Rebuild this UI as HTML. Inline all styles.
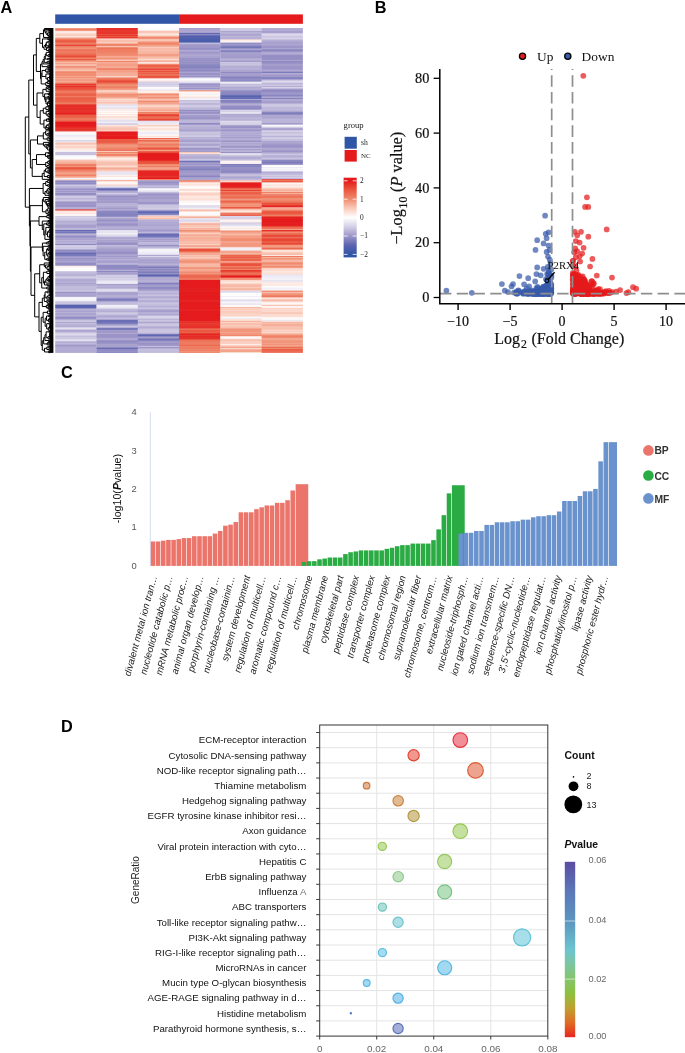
<!DOCTYPE html><html><head><meta charset="utf-8"><title>Figure</title><style>html,body{margin:0;padding:0;background:#fff}svg{display:block}</style></head><body><svg width="685" height="1053" viewBox="0 0 685 1053"><defs><linearGradient id="hc0" x1="0" y1="0" x2="0" y2="1"><stop offset="0" stop-color="#f5ab95"/><stop offset="0.0033" stop-color="#ef8469"/><stop offset="0.0067" stop-color="#ee775d"/><stop offset="0.01" stop-color="#fce2da"/><stop offset="0.0133" stop-color="#fdefea"/><stop offset="0.0167" stop-color="#fcdcd1"/><stop offset="0.02" stop-color="#fbd3c6"/><stop offset="0.0233" stop-color="#fac9b9"/><stop offset="0.0267" stop-color="#fdede8"/><stop offset="0.03" stop-color="#f7b8a4"/><stop offset="0.0333" stop-color="#f0886d"/><stop offset="0.0367" stop-color="#ec6d53"/><stop offset="0.04" stop-color="#ea543e"/><stop offset="0.0433" stop-color="#eb6148"/><stop offset="0.0467" stop-color="#ee795f"/><stop offset="0.05" stop-color="#ee7d62"/><stop offset="0.0533" stop-color="#e7382e"/><stop offset="0.0567" stop-color="#ee7e63"/><stop offset="0.06" stop-color="#f0896d"/><stop offset="0.0633" stop-color="#f19277"/><stop offset="0.0667" stop-color="#ed755b"/><stop offset="0.07" stop-color="#ed745a"/><stop offset="0.0733" stop-color="#ee7f64"/><stop offset="0.0767" stop-color="#ee795e"/><stop offset="0.08" stop-color="#ed7157"/><stop offset="0.0833" stop-color="#ec684e"/><stop offset="0.0867" stop-color="#e84535"/><stop offset="0.09" stop-color="#eb5d45"/><stop offset="0.0933" stop-color="#f08e72"/><stop offset="0.0967" stop-color="#e9503b"/><stop offset="0.1" stop-color="#ef8569"/><stop offset="0.1033" stop-color="#f39d84"/><stop offset="0.1067" stop-color="#f8bca9"/><stop offset="0.11" stop-color="#f2997f"/><stop offset="0.1133" stop-color="#fac9b9"/><stop offset="0.1167" stop-color="#f6b39f"/><stop offset="0.12" stop-color="#ed755b"/><stop offset="0.1233" stop-color="#f7b9a6"/><stop offset="0.1267" stop-color="#f4a68f"/><stop offset="0.13" stop-color="#fbd3c6"/><stop offset="0.1333" stop-color="#f29980"/><stop offset="0.1367" stop-color="#ef8468"/><stop offset="0.14" stop-color="#f1957a"/><stop offset="0.1433" stop-color="#f08a6e"/><stop offset="0.1467" stop-color="#f19074"/><stop offset="0.15" stop-color="#f5ab95"/><stop offset="0.1533" stop-color="#ef866a"/><stop offset="0.1567" stop-color="#f8beab"/><stop offset="0.16" stop-color="#ef8368"/><stop offset="0.1633" stop-color="#f7b7a3"/><stop offset="0.1667" stop-color="#f39c83"/><stop offset="0.17" stop-color="#f08c70"/><stop offset="0.1733" stop-color="#e62e28"/><stop offset="0.1767" stop-color="#eb5d45"/><stop offset="0.18" stop-color="#e62d27"/><stop offset="0.1833" stop-color="#e94f3b"/><stop offset="0.1867" stop-color="#e94e3a"/><stop offset="0.19" stop-color="#eb5e46"/><stop offset="0.1933" stop-color="#ec6a50"/><stop offset="0.1967" stop-color="#f0896d"/><stop offset="0.2" stop-color="#ec664d"/><stop offset="0.2033" stop-color="#ec6d53"/><stop offset="0.2067" stop-color="#e9513c"/><stop offset="0.21" stop-color="#ef8065"/><stop offset="0.2133" stop-color="#ec6b51"/><stop offset="0.2167" stop-color="#ea5c43"/><stop offset="0.22" stop-color="#eb6148"/><stop offset="0.2233" stop-color="#eb634a"/><stop offset="0.2267" stop-color="#eb634a"/><stop offset="0.23" stop-color="#ed765b"/><stop offset="0.2333" stop-color="#ef8065"/><stop offset="0.2367" stop-color="#e62f28"/><stop offset="0.24" stop-color="#e62d27"/><stop offset="0.2433" stop-color="#e62e28"/><stop offset="0.2467" stop-color="#e6322a"/><stop offset="0.25" stop-color="#e52824"/><stop offset="0.2533" stop-color="#e7372d"/><stop offset="0.2567" stop-color="#e6312a"/><stop offset="0.26" stop-color="#e62d27"/><stop offset="0.2633" stop-color="#e52422"/><stop offset="0.2667" stop-color="#e83f32"/><stop offset="0.27" stop-color="#ec694f"/><stop offset="0.2733" stop-color="#ea5b43"/><stop offset="0.2767" stop-color="#ec6a50"/><stop offset="0.28" stop-color="#ef8166"/><stop offset="0.2833" stop-color="#ed6f56"/><stop offset="0.2867" stop-color="#eb644b"/><stop offset="0.29" stop-color="#e41a1c"/><stop offset="0.2933" stop-color="#e41a1c"/><stop offset="0.2967" stop-color="#e41a1c"/><stop offset="0.3" stop-color="#e41c1d"/><stop offset="0.3033" stop-color="#e5201f"/><stop offset="0.3067" stop-color="#e63028"/><stop offset="0.31" stop-color="#e7392e"/><stop offset="0.3133" stop-color="#e62f28"/><stop offset="0.3167" stop-color="#e84133"/><stop offset="0.32" stop-color="#f9f8fb"/><stop offset="0.3233" stop-color="#fef7f5"/><stop offset="0.3267" stop-color="#fbfafc"/><stop offset="0.33" stop-color="#eae8f3"/><stop offset="0.3333" stop-color="#efedf5"/><stop offset="0.3367" stop-color="#f4f3f9"/><stop offset="0.34" stop-color="#fef5f2"/><stop offset="0.3433" stop-color="#f7f6fb"/><stop offset="0.3467" stop-color="#d7d2e8"/><stop offset="0.35" stop-color="#e5e2f0"/><stop offset="0.3533" stop-color="#fbd7ca"/><stop offset="0.3567" stop-color="#f6b4a0"/><stop offset="0.36" stop-color="#fce0d7"/><stop offset="0.3633" stop-color="#fcddd2"/><stop offset="0.3667" stop-color="#facaba"/><stop offset="0.37" stop-color="#fce2d9"/><stop offset="0.3733" stop-color="#fdece6"/><stop offset="0.3767" stop-color="#fef1ec"/><stop offset="0.38" stop-color="#f4f2f8"/><stop offset="0.3833" stop-color="#c4bedd"/><stop offset="0.3867" stop-color="#c5c0de"/><stop offset="0.39" stop-color="#c6c1de"/><stop offset="0.3933" stop-color="#fffffe"/><stop offset="0.3967" stop-color="#f8f7fb"/><stop offset="0.4" stop-color="#fffdfc"/><stop offset="0.4033" stop-color="#fbfbfd"/><stop offset="0.4067" stop-color="#f9c5b4"/><stop offset="0.41" stop-color="#f8bca9"/><stop offset="0.4133" stop-color="#f7b5a1"/><stop offset="0.4167" stop-color="#f5ac96"/><stop offset="0.42" stop-color="#ef8267"/><stop offset="0.4233" stop-color="#ee7c62"/><stop offset="0.4267" stop-color="#f2987e"/><stop offset="0.43" stop-color="#e9523d"/><stop offset="0.4333" stop-color="#ea563f"/><stop offset="0.4367" stop-color="#ee7b61"/><stop offset="0.44" stop-color="#ef8267"/><stop offset="0.4433" stop-color="#f1947a"/><stop offset="0.4467" stop-color="#f3a189"/><stop offset="0.45" stop-color="#f3a088"/><stop offset="0.4533" stop-color="#ee775d"/><stop offset="0.4567" stop-color="#f39f87"/><stop offset="0.46" stop-color="#f7b7a3"/><stop offset="0.4633" stop-color="#f4f2f8"/><stop offset="0.4667" stop-color="#fbd6ca"/><stop offset="0.47" stop-color="#a49ccb"/><stop offset="0.4733" stop-color="#8482bf"/><stop offset="0.4767" stop-color="#a49ccb"/><stop offset="0.48" stop-color="#8482bf"/><stop offset="0.4833" stop-color="#d5d0e6"/><stop offset="0.4867" stop-color="#c2bcdc"/><stop offset="0.49" stop-color="#bbb4d8"/><stop offset="0.4933" stop-color="#b0a9d2"/><stop offset="0.4967" stop-color="#928dc4"/><stop offset="0.5" stop-color="#b1aad2"/><stop offset="0.5033" stop-color="#9c95c7"/><stop offset="0.5067" stop-color="#b2acd3"/><stop offset="0.51" stop-color="#8684bf"/><stop offset="0.5133" stop-color="#9c95c7"/><stop offset="0.5167" stop-color="#bbb5d8"/><stop offset="0.52" stop-color="#dfdced"/><stop offset="0.5233" stop-color="#beb8da"/><stop offset="0.5267" stop-color="#bab3d7"/><stop offset="0.53" stop-color="#d8d3e8"/><stop offset="0.5333" stop-color="#b6b0d5"/><stop offset="0.5367" stop-color="#9b94c7"/><stop offset="0.54" stop-color="#a098c9"/><stop offset="0.5433" stop-color="#a098c9"/><stop offset="0.5467" stop-color="#9791c6"/><stop offset="0.55" stop-color="#a098c9"/><stop offset="0.5533" stop-color="#bcb6d9"/><stop offset="0.5567" stop-color="#b4add4"/><stop offset="0.56" stop-color="#e6332b"/><stop offset="0.5633" stop-color="#fce2d9"/><stop offset="0.5667" stop-color="#fdefe9"/><stop offset="0.57" stop-color="#fce2d9"/><stop offset="0.5733" stop-color="#fef3f0"/><stop offset="0.5767" stop-color="#fffaf9"/><stop offset="0.58" stop-color="#cec8e2"/><stop offset="0.5833" stop-color="#d7d2e8"/><stop offset="0.5867" stop-color="#cfcae3"/><stop offset="0.59" stop-color="#cec8e2"/><stop offset="0.5933" stop-color="#bfb9da"/><stop offset="0.5967" stop-color="#b2abd3"/><stop offset="0.6" stop-color="#bdb6d9"/><stop offset="0.6033" stop-color="#b6b0d6"/><stop offset="0.6067" stop-color="#aca5d0"/><stop offset="0.61" stop-color="#a49dcc"/><stop offset="0.6133" stop-color="#a7a0cd"/><stop offset="0.6167" stop-color="#bbb5d8"/><stop offset="0.62" stop-color="#beb7da"/><stop offset="0.6233" stop-color="#6168b2"/><stop offset="0.6267" stop-color="#8986c1"/><stop offset="0.63" stop-color="#6f73b7"/><stop offset="0.6333" stop-color="#b2abd3"/><stop offset="0.6367" stop-color="#bbb5d8"/><stop offset="0.64" stop-color="#9e96c8"/><stop offset="0.6433" stop-color="#8986c1"/><stop offset="0.6467" stop-color="#b5aed5"/><stop offset="0.65" stop-color="#a098c9"/><stop offset="0.6533" stop-color="#bdb7d9"/><stop offset="0.6567" stop-color="#afa8d1"/><stop offset="0.66" stop-color="#b8b2d7"/><stop offset="0.6633" stop-color="#b5aed5"/><stop offset="0.6667" stop-color="#8785c0"/><stop offset="0.67" stop-color="#ddd9eb"/><stop offset="0.6733" stop-color="#cec8e3"/><stop offset="0.6767" stop-color="#cdc7e2"/><stop offset="0.68" stop-color="#d1cce4"/><stop offset="0.6833" stop-color="#908cc3"/><stop offset="0.6867" stop-color="#938dc4"/><stop offset="0.69" stop-color="#958fc5"/><stop offset="0.6933" stop-color="#6067b1"/><stop offset="0.6967" stop-color="#7577b9"/><stop offset="0.7" stop-color="#7678b9"/><stop offset="0.7033" stop-color="#9f97c9"/><stop offset="0.7067" stop-color="#aaa3cf"/><stop offset="0.71" stop-color="#948ec4"/><stop offset="0.7133" stop-color="#a59dcc"/><stop offset="0.7167" stop-color="#a49dcc"/><stop offset="0.72" stop-color="#b0a9d2"/><stop offset="0.7233" stop-color="#938dc4"/><stop offset="0.7267" stop-color="#928dc4"/><stop offset="0.73" stop-color="#948ec4"/><stop offset="0.7333" stop-color="#fdefea"/><stop offset="0.7367" stop-color="#fef5f2"/><stop offset="0.74" stop-color="#fefefe"/><stop offset="0.7433" stop-color="#fffdfc"/><stop offset="0.7467" stop-color="#fffefe"/><stop offset="0.75" stop-color="#c7c1df"/><stop offset="0.7533" stop-color="#c2bcdc"/><stop offset="0.7567" stop-color="#c0badb"/><stop offset="0.76" stop-color="#b4add4"/><stop offset="0.7633" stop-color="#bcb6d9"/><stop offset="0.7667" stop-color="#d9d4e9"/><stop offset="0.77" stop-color="#cbc6e1"/><stop offset="0.7733" stop-color="#b4add4"/><stop offset="0.7767" stop-color="#b0a9d2"/><stop offset="0.78" stop-color="#b4add4"/><stop offset="0.7833" stop-color="#b8b1d6"/><stop offset="0.7867" stop-color="#aaa2ce"/><stop offset="0.79" stop-color="#b5afd5"/><stop offset="0.7933" stop-color="#b6afd5"/><stop offset="0.7967" stop-color="#c4bedd"/><stop offset="0.8" stop-color="#c3bddd"/><stop offset="0.8033" stop-color="#c0badb"/><stop offset="0.8067" stop-color="#c0b9db"/><stop offset="0.81" stop-color="#d8d3e8"/><stop offset="0.8133" stop-color="#8f8ac2"/><stop offset="0.8167" stop-color="#afa8d1"/><stop offset="0.82" stop-color="#aaa3cf"/><stop offset="0.8233" stop-color="#aaa3cf"/><stop offset="0.8267" stop-color="#b4add4"/><stop offset="0.83" stop-color="#fffefe"/><stop offset="0.8333" stop-color="#f7f6fa"/><stop offset="0.8367" stop-color="#f5f4f9"/><stop offset="0.84" stop-color="#f1f0f7"/><stop offset="0.8433" stop-color="#c3bddc"/><stop offset="0.8467" stop-color="#d0cbe4"/><stop offset="0.85" stop-color="#bfb9da"/><stop offset="0.8533" stop-color="#5662af"/><stop offset="0.8567" stop-color="#5561ae"/><stop offset="0.86" stop-color="#5762af"/><stop offset="0.8633" stop-color="#948ec4"/><stop offset="0.8667" stop-color="#bab3d7"/><stop offset="0.87" stop-color="#afa8d1"/><stop offset="0.8733" stop-color="#a69fcd"/><stop offset="0.8767" stop-color="#bfb9da"/><stop offset="0.88" stop-color="#a098c9"/><stop offset="0.8833" stop-color="#b5aed5"/><stop offset="0.8867" stop-color="#b5afd5"/><stop offset="0.89" stop-color="#918cc3"/><stop offset="0.8933" stop-color="#918cc3"/><stop offset="0.8967" stop-color="#afa8d1"/><stop offset="0.9" stop-color="#c8c2df"/><stop offset="0.9033" stop-color="#cdc8e2"/><stop offset="0.9067" stop-color="#aba3cf"/><stop offset="0.91" stop-color="#cac4e0"/><stop offset="0.9133" stop-color="#b6b0d5"/><stop offset="0.9167" stop-color="#b6afd5"/><stop offset="0.92" stop-color="#b4add4"/><stop offset="0.9233" stop-color="#ebe9f3"/><stop offset="0.9267" stop-color="#dedaec"/><stop offset="0.93" stop-color="#aea7d1"/><stop offset="0.9333" stop-color="#aba3cf"/><stop offset="0.9367" stop-color="#c2bcdc"/><stop offset="0.94" stop-color="#d7d3e8"/><stop offset="0.9433" stop-color="#dedaec"/><stop offset="0.9467" stop-color="#d2cde5"/><stop offset="0.95" stop-color="#c1bbdb"/><stop offset="0.9533" stop-color="#d1cce4"/><stop offset="0.9567" stop-color="#cac5e1"/><stop offset="0.96" stop-color="#e9e7f2"/><stop offset="0.9633" stop-color="#dbd7ea"/><stop offset="0.9667" stop-color="#a8a1ce"/><stop offset="0.97" stop-color="#c0badb"/><stop offset="0.9733" stop-color="#bab4d8"/><stop offset="0.9767" stop-color="#9b94c7"/><stop offset="0.98" stop-color="#aba4cf"/><stop offset="0.9833" stop-color="#afa8d2"/><stop offset="0.9867" stop-color="#b3acd4"/><stop offset="0.99" stop-color="#b4aed4"/><stop offset="0.9933" stop-color="#aea7d1"/><stop offset="0.9967" stop-color="#b5afd5"/><stop offset="1" stop-color="#aaa3cf"/></linearGradient><linearGradient id="hc1" x1="0" y1="0" x2="0" y2="1"><stop offset="0" stop-color="#e52925"/><stop offset="0.0033" stop-color="#e63029"/><stop offset="0.0067" stop-color="#e6342b"/><stop offset="0.01" stop-color="#e73b2f"/><stop offset="0.0133" stop-color="#e7352c"/><stop offset="0.0167" stop-color="#e6342b"/><stop offset="0.02" stop-color="#e9513c"/><stop offset="0.0233" stop-color="#e7342b"/><stop offset="0.0267" stop-color="#eb6249"/><stop offset="0.03" stop-color="#e52925"/><stop offset="0.0333" stop-color="#facebf"/><stop offset="0.0367" stop-color="#fbd1c3"/><stop offset="0.04" stop-color="#f6af9a"/><stop offset="0.0433" stop-color="#fbd3c6"/><stop offset="0.0467" stop-color="#f9c6b5"/><stop offset="0.05" stop-color="#ef8469"/><stop offset="0.0533" stop-color="#ee7e63"/><stop offset="0.0567" stop-color="#f9c4b2"/><stop offset="0.06" stop-color="#f08c70"/><stop offset="0.0633" stop-color="#ed7157"/><stop offset="0.0667" stop-color="#ee7f64"/><stop offset="0.07" stop-color="#ee7d62"/><stop offset="0.0733" stop-color="#ef8569"/><stop offset="0.0767" stop-color="#ee7e63"/><stop offset="0.08" stop-color="#f19277"/><stop offset="0.0833" stop-color="#ee7d62"/><stop offset="0.0867" stop-color="#f5aa93"/><stop offset="0.09" stop-color="#f5a992"/><stop offset="0.0933" stop-color="#f08a6e"/><stop offset="0.0967" stop-color="#f5ab94"/><stop offset="0.1" stop-color="#f9c7b6"/><stop offset="0.1033" stop-color="#ef8166"/><stop offset="0.1067" stop-color="#f6b39e"/><stop offset="0.11" stop-color="#f4a38c"/><stop offset="0.1133" stop-color="#f39c83"/><stop offset="0.1167" stop-color="#f3a189"/><stop offset="0.12" stop-color="#f6b19c"/><stop offset="0.1233" stop-color="#f39f86"/><stop offset="0.1267" stop-color="#ec6b51"/><stop offset="0.13" stop-color="#f4a790"/><stop offset="0.1333" stop-color="#f39c83"/><stop offset="0.1367" stop-color="#f4a790"/><stop offset="0.14" stop-color="#f5af99"/><stop offset="0.1433" stop-color="#f5ae99"/><stop offset="0.1467" stop-color="#f5ac96"/><stop offset="0.15" stop-color="#fce3da"/><stop offset="0.1533" stop-color="#f08b6f"/><stop offset="0.1567" stop-color="#ed745a"/><stop offset="0.16" stop-color="#ec6c52"/><stop offset="0.1633" stop-color="#e83f32"/><stop offset="0.1667" stop-color="#ea573f"/><stop offset="0.17" stop-color="#ec684f"/><stop offset="0.1733" stop-color="#f08b6f"/><stop offset="0.1767" stop-color="#f19176"/><stop offset="0.18" stop-color="#ef876b"/><stop offset="0.1833" stop-color="#ee7e63"/><stop offset="0.1867" stop-color="#f1957a"/><stop offset="0.19" stop-color="#f3a188"/><stop offset="0.1933" stop-color="#fce3da"/><stop offset="0.1967" stop-color="#f9c3b1"/><stop offset="0.2" stop-color="#f8bfad"/><stop offset="0.2033" stop-color="#f08e73"/><stop offset="0.2067" stop-color="#f19176"/><stop offset="0.21" stop-color="#f19277"/><stop offset="0.2133" stop-color="#f4a58e"/><stop offset="0.2167" stop-color="#f8beab"/><stop offset="0.22" stop-color="#fcddd2"/><stop offset="0.2233" stop-color="#facebf"/><stop offset="0.2267" stop-color="#fbd7cb"/><stop offset="0.23" stop-color="#f8bcaa"/><stop offset="0.2333" stop-color="#fbd5c8"/><stop offset="0.2367" stop-color="#e4e1ef"/><stop offset="0.24" stop-color="#e9e6f2"/><stop offset="0.2433" stop-color="#f1f0f7"/><stop offset="0.2467" stop-color="#dedaec"/><stop offset="0.25" stop-color="#fdeee9"/><stop offset="0.2533" stop-color="#fdeae3"/><stop offset="0.2567" stop-color="#fbfbfd"/><stop offset="0.26" stop-color="#fdefea"/><stop offset="0.2633" stop-color="#fffcfb"/><stop offset="0.2667" stop-color="#fce1d8"/><stop offset="0.27" stop-color="#fffbfa"/><stop offset="0.2733" stop-color="#fbd5c8"/><stop offset="0.2767" stop-color="#fde7e0"/><stop offset="0.28" stop-color="#fdede8"/><stop offset="0.2833" stop-color="#eae8f3"/><stop offset="0.2867" stop-color="#ddd9eb"/><stop offset="0.29" stop-color="#f8f7fb"/><stop offset="0.2933" stop-color="#dad5e9"/><stop offset="0.2967" stop-color="#d2cde5"/><stop offset="0.3" stop-color="#fde9e2"/><stop offset="0.3033" stop-color="#fbd3c6"/><stop offset="0.3067" stop-color="#facbbc"/><stop offset="0.31" stop-color="#f9c2b0"/><stop offset="0.3133" stop-color="#f8c1af"/><stop offset="0.3167" stop-color="#fbdacf"/><stop offset="0.32" stop-color="#e41d1e"/><stop offset="0.3233" stop-color="#e41a1c"/><stop offset="0.3267" stop-color="#e41a1c"/><stop offset="0.33" stop-color="#e52623"/><stop offset="0.3333" stop-color="#e41b1c"/><stop offset="0.3367" stop-color="#e41a1c"/><stop offset="0.34" stop-color="#e41a1c"/><stop offset="0.3433" stop-color="#eb5f46"/><stop offset="0.3467" stop-color="#ea5a42"/><stop offset="0.35" stop-color="#eb5d45"/><stop offset="0.3533" stop-color="#eb5e46"/><stop offset="0.3567" stop-color="#ee7e63"/><stop offset="0.36" stop-color="#f2967c"/><stop offset="0.3633" stop-color="#f2997f"/><stop offset="0.3667" stop-color="#f19277"/><stop offset="0.37" stop-color="#ef866b"/><stop offset="0.3733" stop-color="#ef7f64"/><stop offset="0.3767" stop-color="#ec6a51"/><stop offset="0.38" stop-color="#faccbd"/><stop offset="0.3833" stop-color="#ef8468"/><stop offset="0.3867" stop-color="#f5aa93"/><stop offset="0.39" stop-color="#ed755b"/><stop offset="0.3933" stop-color="#f19074"/><stop offset="0.3967" stop-color="#facbbc"/><stop offset="0.4" stop-color="#fce5dc"/><stop offset="0.4033" stop-color="#fef2ed"/><stop offset="0.4067" stop-color="#fcdcd1"/><stop offset="0.41" stop-color="#fbd3c6"/><stop offset="0.4133" stop-color="#f8c1af"/><stop offset="0.4167" stop-color="#f8c1af"/><stop offset="0.42" stop-color="#f8c0ae"/><stop offset="0.4233" stop-color="#facbbb"/><stop offset="0.4267" stop-color="#fce1d7"/><stop offset="0.43" stop-color="#f6b5a0"/><stop offset="0.4333" stop-color="#f5a993"/><stop offset="0.4367" stop-color="#f8c0ae"/><stop offset="0.44" stop-color="#fbd2c5"/><stop offset="0.4433" stop-color="#e7e4f1"/><stop offset="0.4467" stop-color="#eae8f3"/><stop offset="0.45" stop-color="#e4e0ef"/><stop offset="0.4533" stop-color="#fef5f2"/><stop offset="0.4567" stop-color="#fce2d9"/><stop offset="0.46" stop-color="#fbfbfd"/><stop offset="0.4633" stop-color="#fffcfb"/><stop offset="0.4667" stop-color="#f3f1f8"/><stop offset="0.47" stop-color="#f5aa93"/><stop offset="0.4733" stop-color="#fef5f1"/><stop offset="0.4767" stop-color="#fef8f6"/><stop offset="0.48" stop-color="#fef4f1"/><stop offset="0.4833" stop-color="#fbd1c3"/><stop offset="0.4867" stop-color="#e3e0ef"/><stop offset="0.49" stop-color="#e4e1ef"/><stop offset="0.4933" stop-color="#8684bf"/><stop offset="0.4967" stop-color="#5762af"/><stop offset="0.5" stop-color="#8e8ac2"/><stop offset="0.5033" stop-color="#b0a9d2"/><stop offset="0.5067" stop-color="#b8b1d6"/><stop offset="0.51" stop-color="#d9d4e9"/><stop offset="0.5133" stop-color="#b4add4"/><stop offset="0.5167" stop-color="#a19aca"/><stop offset="0.52" stop-color="#908bc3"/><stop offset="0.5233" stop-color="#aba4cf"/><stop offset="0.5267" stop-color="#9a93c7"/><stop offset="0.53" stop-color="#a9a1ce"/><stop offset="0.5333" stop-color="#a49dcb"/><stop offset="0.5367" stop-color="#a199ca"/><stop offset="0.54" stop-color="#b7b1d6"/><stop offset="0.5433" stop-color="#b7b1d6"/><stop offset="0.5467" stop-color="#bcb6d9"/><stop offset="0.55" stop-color="#afa8d2"/><stop offset="0.5533" stop-color="#ada6d0"/><stop offset="0.5567" stop-color="#9c94c7"/><stop offset="0.56" stop-color="#bdb7d9"/><stop offset="0.5633" stop-color="#8e8ac2"/><stop offset="0.5667" stop-color="#8885c0"/><stop offset="0.57" stop-color="#8a87c1"/><stop offset="0.5733" stop-color="#8281be"/><stop offset="0.5767" stop-color="#8483bf"/><stop offset="0.58" stop-color="#938ec4"/><stop offset="0.5833" stop-color="#bfb8da"/><stop offset="0.5867" stop-color="#aaa2cf"/><stop offset="0.59" stop-color="#a29bca"/><stop offset="0.5933" stop-color="#908bc3"/><stop offset="0.5967" stop-color="#ada6d0"/><stop offset="0.6" stop-color="#a9a2ce"/><stop offset="0.6033" stop-color="#9790c5"/><stop offset="0.6067" stop-color="#9992c6"/><stop offset="0.61" stop-color="#a9a2ce"/><stop offset="0.6133" stop-color="#b8b2d7"/><stop offset="0.6167" stop-color="#b3acd4"/><stop offset="0.62" stop-color="#ada6d0"/><stop offset="0.6233" stop-color="#e2dfee"/><stop offset="0.6267" stop-color="#e8e5f2"/><stop offset="0.63" stop-color="#e5e2f0"/><stop offset="0.6333" stop-color="#f9f8fb"/><stop offset="0.6367" stop-color="#dbd7ea"/><stop offset="0.64" stop-color="#e2deee"/><stop offset="0.6433" stop-color="#bcb6d9"/><stop offset="0.6467" stop-color="#a69ecc"/><stop offset="0.65" stop-color="#beb8da"/><stop offset="0.6533" stop-color="#a9a2ce"/><stop offset="0.6567" stop-color="#aca5d0"/><stop offset="0.66" stop-color="#a49dcc"/><stop offset="0.6633" stop-color="#948ec4"/><stop offset="0.6667" stop-color="#9b94c7"/><stop offset="0.67" stop-color="#cac4e0"/><stop offset="0.6733" stop-color="#b3acd4"/><stop offset="0.6767" stop-color="#b3acd3"/><stop offset="0.68" stop-color="#a79fcd"/><stop offset="0.6833" stop-color="#a199ca"/><stop offset="0.6867" stop-color="#a8a0cd"/><stop offset="0.69" stop-color="#928dc4"/><stop offset="0.6933" stop-color="#938dc4"/><stop offset="0.6967" stop-color="#a7a0cd"/><stop offset="0.7" stop-color="#aea7d1"/><stop offset="0.7033" stop-color="#a098c9"/><stop offset="0.7067" stop-color="#afa8d2"/><stop offset="0.71" stop-color="#aba4cf"/><stop offset="0.7133" stop-color="#bbb5d8"/><stop offset="0.7167" stop-color="#a8a1ce"/><stop offset="0.72" stop-color="#a49ccb"/><stop offset="0.7233" stop-color="#aea7d1"/><stop offset="0.7267" stop-color="#c9c3e0"/><stop offset="0.73" stop-color="#8b88c1"/><stop offset="0.7333" stop-color="#8f8bc3"/><stop offset="0.7367" stop-color="#8c88c1"/><stop offset="0.74" stop-color="#928dc4"/><stop offset="0.7433" stop-color="#9e96c8"/><stop offset="0.7467" stop-color="#b6afd5"/><stop offset="0.75" stop-color="#8382be"/><stop offset="0.7533" stop-color="#b5afd5"/><stop offset="0.7567" stop-color="#a199ca"/><stop offset="0.76" stop-color="#c0badb"/><stop offset="0.7633" stop-color="#e1dded"/><stop offset="0.7667" stop-color="#c2bcdc"/><stop offset="0.77" stop-color="#dcd8eb"/><stop offset="0.7733" stop-color="#d1cce4"/><stop offset="0.7767" stop-color="#dcd8eb"/><stop offset="0.78" stop-color="#eae7f3"/><stop offset="0.7833" stop-color="#eceaf4"/><stop offset="0.7867" stop-color="#e4e1ef"/><stop offset="0.79" stop-color="#9b94c7"/><stop offset="0.7933" stop-color="#b7b0d6"/><stop offset="0.7967" stop-color="#b9b2d7"/><stop offset="0.8" stop-color="#aca5d0"/><stop offset="0.8033" stop-color="#d4cfe6"/><stop offset="0.8067" stop-color="#e3e0ef"/><stop offset="0.81" stop-color="#e2deee"/><stop offset="0.8133" stop-color="#aea7d1"/><stop offset="0.8167" stop-color="#a8a0cd"/><stop offset="0.82" stop-color="#a8a0cd"/><stop offset="0.8233" stop-color="#b4add4"/><stop offset="0.8267" stop-color="#b7b0d6"/><stop offset="0.83" stop-color="#aba4cf"/><stop offset="0.8333" stop-color="#8a87c1"/><stop offset="0.8367" stop-color="#7174b8"/><stop offset="0.84" stop-color="#9690c5"/><stop offset="0.8433" stop-color="#bab4d8"/><stop offset="0.8467" stop-color="#c7c1df"/><stop offset="0.85" stop-color="#b8b2d7"/><stop offset="0.8533" stop-color="#eeecf5"/><stop offset="0.8567" stop-color="#f4f3f9"/><stop offset="0.86" stop-color="#e8e5f2"/><stop offset="0.8633" stop-color="#dbd7ea"/><stop offset="0.8667" stop-color="#bbb5d8"/><stop offset="0.87" stop-color="#bab4d8"/><stop offset="0.8733" stop-color="#b1abd3"/><stop offset="0.8767" stop-color="#d1cce4"/><stop offset="0.88" stop-color="#cec9e3"/><stop offset="0.8833" stop-color="#c0b9db"/><stop offset="0.8867" stop-color="#a9a1ce"/><stop offset="0.89" stop-color="#b5aed5"/><stop offset="0.8933" stop-color="#c4bedd"/><stop offset="0.8967" stop-color="#b4aed4"/><stop offset="0.9" stop-color="#696eb5"/><stop offset="0.9033" stop-color="#696eb5"/><stop offset="0.9067" stop-color="#7274b8"/><stop offset="0.91" stop-color="#8180be"/><stop offset="0.9133" stop-color="#a9a2ce"/><stop offset="0.9167" stop-color="#b3acd4"/><stop offset="0.92" stop-color="#d9d4e9"/><stop offset="0.9233" stop-color="#918cc3"/><stop offset="0.9267" stop-color="#5863af"/><stop offset="0.93" stop-color="#a69fcc"/><stop offset="0.9333" stop-color="#a29aca"/><stop offset="0.9367" stop-color="#9f97c8"/><stop offset="0.94" stop-color="#b1aad2"/><stop offset="0.9433" stop-color="#9b94c7"/><stop offset="0.9467" stop-color="#9c94c7"/><stop offset="0.95" stop-color="#9b94c7"/><stop offset="0.9533" stop-color="#9f97c9"/><stop offset="0.9567" stop-color="#b4add4"/><stop offset="0.96" stop-color="#ada5d0"/><stop offset="0.9633" stop-color="#8986c0"/><stop offset="0.9667" stop-color="#9993c6"/><stop offset="0.97" stop-color="#938ec4"/><stop offset="0.9733" stop-color="#ada6d0"/><stop offset="0.9767" stop-color="#a49dcb"/><stop offset="0.98" stop-color="#aea7d1"/><stop offset="0.9833" stop-color="#8b87c1"/><stop offset="0.9867" stop-color="#676cb4"/><stop offset="0.99" stop-color="#958fc5"/><stop offset="0.9933" stop-color="#908cc3"/><stop offset="0.9967" stop-color="#9690c5"/><stop offset="1" stop-color="#7375b8"/></linearGradient><linearGradient id="hc2" x1="0" y1="0" x2="0" y2="1"><stop offset="0" stop-color="#fffefe"/><stop offset="0.0033" stop-color="#faf9fc"/><stop offset="0.0067" stop-color="#faf9fc"/><stop offset="0.01" stop-color="#f9c4b3"/><stop offset="0.0133" stop-color="#f9c4b3"/><stop offset="0.0167" stop-color="#fbdace"/><stop offset="0.02" stop-color="#fde7e0"/><stop offset="0.0233" stop-color="#fbd3c5"/><stop offset="0.0267" stop-color="#f4a790"/><stop offset="0.03" stop-color="#ef8065"/><stop offset="0.0333" stop-color="#f29a81"/><stop offset="0.0367" stop-color="#fbd7cb"/><stop offset="0.04" stop-color="#f7b9a6"/><stop offset="0.0433" stop-color="#f29b82"/><stop offset="0.0467" stop-color="#ef8166"/><stop offset="0.05" stop-color="#f08a6f"/><stop offset="0.0533" stop-color="#f39d84"/><stop offset="0.0567" stop-color="#f5ad98"/><stop offset="0.06" stop-color="#fac9b9"/><stop offset="0.0633" stop-color="#f8bca9"/><stop offset="0.0667" stop-color="#f7b9a6"/><stop offset="0.07" stop-color="#f9c3b1"/><stop offset="0.0733" stop-color="#f6b09b"/><stop offset="0.0767" stop-color="#f7bba7"/><stop offset="0.08" stop-color="#f5aa94"/><stop offset="0.0833" stop-color="#f19277"/><stop offset="0.0867" stop-color="#f6af99"/><stop offset="0.09" stop-color="#f7b6a1"/><stop offset="0.0933" stop-color="#f9c3b2"/><stop offset="0.0967" stop-color="#fcdbd0"/><stop offset="0.1" stop-color="#f8c1af"/><stop offset="0.1033" stop-color="#f6b39e"/><stop offset="0.1067" stop-color="#fdefea"/><stop offset="0.11" stop-color="#facdbe"/><stop offset="0.1133" stop-color="#ec6a51"/><stop offset="0.1167" stop-color="#ea5941"/><stop offset="0.12" stop-color="#ec6a51"/><stop offset="0.1233" stop-color="#ef8166"/><stop offset="0.1267" stop-color="#e52925"/><stop offset="0.13" stop-color="#ee7e63"/><stop offset="0.1333" stop-color="#e94a38"/><stop offset="0.1367" stop-color="#ed7056"/><stop offset="0.14" stop-color="#ea5c43"/><stop offset="0.1433" stop-color="#ed765c"/><stop offset="0.1467" stop-color="#ec6c53"/><stop offset="0.15" stop-color="#e94a38"/><stop offset="0.1533" stop-color="#eb644b"/><stop offset="0.1567" stop-color="#fefeff"/><stop offset="0.16" stop-color="#fef4f1"/><stop offset="0.1633" stop-color="#fde8e1"/><stop offset="0.1667" stop-color="#cec9e3"/><stop offset="0.17" stop-color="#ddd9eb"/><stop offset="0.1733" stop-color="#ccc7e2"/><stop offset="0.1767" stop-color="#dcd7ea"/><stop offset="0.18" stop-color="#dad6e9"/><stop offset="0.1833" stop-color="#fffdfd"/><stop offset="0.1867" stop-color="#f9f9fc"/><stop offset="0.19" stop-color="#edebf4"/><stop offset="0.1933" stop-color="#fce1d8"/><stop offset="0.1967" stop-color="#fefaf8"/><stop offset="0.2" stop-color="#fce0d6"/><stop offset="0.2033" stop-color="#ef8469"/><stop offset="0.2067" stop-color="#f2977e"/><stop offset="0.21" stop-color="#f6b29d"/><stop offset="0.2133" stop-color="#f08a6e"/><stop offset="0.2167" stop-color="#f3a189"/><stop offset="0.22" stop-color="#f9c2b0"/><stop offset="0.2233" stop-color="#f5ad98"/><stop offset="0.2267" stop-color="#ef866a"/><stop offset="0.23" stop-color="#f5ac96"/><stop offset="0.2333" stop-color="#f4a28b"/><stop offset="0.2367" stop-color="#f9c6b5"/><stop offset="0.24" stop-color="#fcded4"/><stop offset="0.2433" stop-color="#fac9b9"/><stop offset="0.2467" stop-color="#f7b7a3"/><stop offset="0.25" stop-color="#f7baa7"/><stop offset="0.2533" stop-color="#f39d84"/><stop offset="0.2567" stop-color="#faccbc"/><stop offset="0.26" stop-color="#ee7e63"/><stop offset="0.2633" stop-color="#f0886c"/><stop offset="0.2667" stop-color="#e84736"/><stop offset="0.27" stop-color="#e83f31"/><stop offset="0.2733" stop-color="#ec6d54"/><stop offset="0.2767" stop-color="#ed7157"/><stop offset="0.28" stop-color="#ea5b43"/><stop offset="0.2833" stop-color="#e7342b"/><stop offset="0.2867" stop-color="#dfdced"/><stop offset="0.29" stop-color="#eceaf4"/><stop offset="0.2933" stop-color="#e8e5f1"/><stop offset="0.2967" stop-color="#f3f1f8"/><stop offset="0.3" stop-color="#facab9"/><stop offset="0.3033" stop-color="#fce4dc"/><stop offset="0.3067" stop-color="#fef2ee"/><stop offset="0.31" stop-color="#fcdfd5"/><stop offset="0.3133" stop-color="#fce4dc"/><stop offset="0.3167" stop-color="#fef7f4"/><stop offset="0.32" stop-color="#f5f4f9"/><stop offset="0.3233" stop-color="#e9e7f2"/><stop offset="0.3267" stop-color="#f4f2f8"/><stop offset="0.33" stop-color="#fffdfc"/><stop offset="0.3333" stop-color="#fcdbd0"/><stop offset="0.3367" stop-color="#fffffe"/><stop offset="0.34" stop-color="#ec654c"/><stop offset="0.3433" stop-color="#f5a993"/><stop offset="0.3467" stop-color="#eb5e46"/><stop offset="0.35" stop-color="#ef8569"/><stop offset="0.3533" stop-color="#f4a38b"/><stop offset="0.3567" stop-color="#ef8266"/><stop offset="0.36" stop-color="#ed755b"/><stop offset="0.3633" stop-color="#f19479"/><stop offset="0.3667" stop-color="#ef876c"/><stop offset="0.37" stop-color="#e9503b"/><stop offset="0.3733" stop-color="#ea5c44"/><stop offset="0.3767" stop-color="#f5aa93"/><stop offset="0.38" stop-color="#eb634a"/><stop offset="0.3833" stop-color="#e94b39"/><stop offset="0.3867" stop-color="#e41a1c"/><stop offset="0.39" stop-color="#e41a1c"/><stop offset="0.3933" stop-color="#e41a1c"/><stop offset="0.3967" stop-color="#e41a1c"/><stop offset="0.4" stop-color="#e41e1e"/><stop offset="0.4033" stop-color="#e41a1c"/><stop offset="0.4067" stop-color="#e52120"/><stop offset="0.41" stop-color="#e94a38"/><stop offset="0.4133" stop-color="#ea553e"/><stop offset="0.4167" stop-color="#e9503b"/><stop offset="0.42" stop-color="#f08a6e"/><stop offset="0.4233" stop-color="#f1957b"/><stop offset="0.4267" stop-color="#ee775c"/><stop offset="0.43" stop-color="#f4a790"/><stop offset="0.4333" stop-color="#f4a28b"/><stop offset="0.4367" stop-color="#f19176"/><stop offset="0.44" stop-color="#e52220"/><stop offset="0.4433" stop-color="#e52925"/><stop offset="0.4467" stop-color="#e52322"/><stop offset="0.45" stop-color="#e52724"/><stop offset="0.4533" stop-color="#e52220"/><stop offset="0.4567" stop-color="#e7352c"/><stop offset="0.46" stop-color="#e62b26"/><stop offset="0.4633" stop-color="#e41a1c"/><stop offset="0.4667" stop-color="#f19479"/><stop offset="0.47" stop-color="#aea7d1"/><stop offset="0.4733" stop-color="#9c94c7"/><stop offset="0.4767" stop-color="#9791c6"/><stop offset="0.48" stop-color="#a79fcd"/><stop offset="0.4833" stop-color="#a39bcb"/><stop offset="0.4867" stop-color="#d5d0e7"/><stop offset="0.49" stop-color="#a49ccb"/><stop offset="0.4933" stop-color="#e9e6f2"/><stop offset="0.4967" stop-color="#f8f7fb"/><stop offset="0.5" stop-color="#eeedf5"/><stop offset="0.5033" stop-color="#e3e0ef"/><stop offset="0.5067" stop-color="#bdb6d9"/><stop offset="0.51" stop-color="#a59ecc"/><stop offset="0.5133" stop-color="#958fc5"/><stop offset="0.5167" stop-color="#a69ecc"/><stop offset="0.52" stop-color="#a8a1ce"/><stop offset="0.5233" stop-color="#9b94c7"/><stop offset="0.5267" stop-color="#aba4cf"/><stop offset="0.53" stop-color="#ada6d0"/><stop offset="0.5333" stop-color="#afa8d2"/><stop offset="0.5367" stop-color="#9f97c9"/><stop offset="0.54" stop-color="#9a93c7"/><stop offset="0.5433" stop-color="#bab3d7"/><stop offset="0.5467" stop-color="#ccc7e2"/><stop offset="0.55" stop-color="#c9c4e0"/><stop offset="0.5533" stop-color="#cec9e3"/><stop offset="0.5567" stop-color="#d5d0e6"/><stop offset="0.56" stop-color="#bcb5d9"/><stop offset="0.5633" stop-color="#8281be"/><stop offset="0.5667" stop-color="#5160ad"/><stop offset="0.57" stop-color="#7a7bbb"/><stop offset="0.5733" stop-color="#7476b9"/><stop offset="0.5767" stop-color="#ccc7e2"/><stop offset="0.58" stop-color="#f9c8b7"/><stop offset="0.5833" stop-color="#fbd4c7"/><stop offset="0.5867" stop-color="#f8bba8"/><stop offset="0.59" stop-color="#c5bfdd"/><stop offset="0.5933" stop-color="#ada6d1"/><stop offset="0.5967" stop-color="#bab4d8"/><stop offset="0.6" stop-color="#a9a2ce"/><stop offset="0.6033" stop-color="#b6b0d5"/><stop offset="0.6067" stop-color="#a49dcc"/><stop offset="0.61" stop-color="#b8b1d6"/><stop offset="0.6133" stop-color="#b0a9d2"/><stop offset="0.6167" stop-color="#b7b0d6"/><stop offset="0.62" stop-color="#aaa3cf"/><stop offset="0.6233" stop-color="#a29aca"/><stop offset="0.6267" stop-color="#aea7d1"/><stop offset="0.63" stop-color="#c1bbdc"/><stop offset="0.6333" stop-color="#8381be"/><stop offset="0.6367" stop-color="#5a63b0"/><stop offset="0.64" stop-color="#7275b8"/><stop offset="0.6433" stop-color="#7174b8"/><stop offset="0.6467" stop-color="#b8b2d7"/><stop offset="0.65" stop-color="#9c95c7"/><stop offset="0.6533" stop-color="#b7b1d6"/><stop offset="0.6567" stop-color="#a59dcc"/><stop offset="0.66" stop-color="#c3bddd"/><stop offset="0.6633" stop-color="#beb7da"/><stop offset="0.6667" stop-color="#bbb5d8"/><stop offset="0.67" stop-color="#8c88c1"/><stop offset="0.6733" stop-color="#bbb5d8"/><stop offset="0.6767" stop-color="#bcb6d9"/><stop offset="0.68" stop-color="#e7e5f1"/><stop offset="0.6833" stop-color="#fafafc"/><stop offset="0.6867" stop-color="#f3f1f8"/><stop offset="0.69" stop-color="#f1eff7"/><stop offset="0.6933" stop-color="#eceaf4"/><stop offset="0.6967" stop-color="#eae7f3"/><stop offset="0.7" stop-color="#ada5d0"/><stop offset="0.7033" stop-color="#dcd8eb"/><stop offset="0.7067" stop-color="#b5afd5"/><stop offset="0.71" stop-color="#b6afd5"/><stop offset="0.7133" stop-color="#a9a2ce"/><stop offset="0.7167" stop-color="#aaa3cf"/><stop offset="0.72" stop-color="#aba4cf"/><stop offset="0.7233" stop-color="#a69fcd"/><stop offset="0.7267" stop-color="#bfb9da"/><stop offset="0.73" stop-color="#afa8d1"/><stop offset="0.7333" stop-color="#9d95c8"/><stop offset="0.7367" stop-color="#7677b9"/><stop offset="0.74" stop-color="#9e96c8"/><stop offset="0.7433" stop-color="#8b88c1"/><stop offset="0.7467" stop-color="#9992c6"/><stop offset="0.75" stop-color="#8a87c1"/><stop offset="0.7533" stop-color="#7b7bbb"/><stop offset="0.7567" stop-color="#a29bca"/><stop offset="0.76" stop-color="#5963af"/><stop offset="0.7633" stop-color="#5d65b1"/><stop offset="0.7667" stop-color="#a69fcd"/><stop offset="0.77" stop-color="#b6afd5"/><stop offset="0.7733" stop-color="#ada6d0"/><stop offset="0.7767" stop-color="#b7b0d6"/><stop offset="0.78" stop-color="#b7b1d6"/><stop offset="0.7833" stop-color="#a9a2ce"/><stop offset="0.7867" stop-color="#7c7cbc"/><stop offset="0.79" stop-color="#9f97c8"/><stop offset="0.7933" stop-color="#a69fcd"/><stop offset="0.7967" stop-color="#a39bcb"/><stop offset="0.8" stop-color="#8180be"/><stop offset="0.8033" stop-color="#a19aca"/><stop offset="0.8067" stop-color="#9e96c8"/><stop offset="0.81" stop-color="#bfb9db"/><stop offset="0.8133" stop-color="#c1bbdc"/><stop offset="0.8167" stop-color="#b7b0d6"/><stop offset="0.82" stop-color="#beb8da"/><stop offset="0.8233" stop-color="#c8c2df"/><stop offset="0.8267" stop-color="#b5aed5"/><stop offset="0.83" stop-color="#b1aad3"/><stop offset="0.8333" stop-color="#c3bddd"/><stop offset="0.8367" stop-color="#c7c1df"/><stop offset="0.84" stop-color="#aca5d0"/><stop offset="0.8433" stop-color="#bbb5d8"/><stop offset="0.8467" stop-color="#ccc7e2"/><stop offset="0.85" stop-color="#c2bcdc"/><stop offset="0.8533" stop-color="#c6c0de"/><stop offset="0.8567" stop-color="#b4add4"/><stop offset="0.86" stop-color="#bfb9db"/><stop offset="0.8633" stop-color="#cbc6e1"/><stop offset="0.8667" stop-color="#b0a9d2"/><stop offset="0.87" stop-color="#a8a1ce"/><stop offset="0.8733" stop-color="#a29bca"/><stop offset="0.8767" stop-color="#bfb9da"/><stop offset="0.88" stop-color="#b4add4"/><stop offset="0.8833" stop-color="#a7a0cd"/><stop offset="0.8867" stop-color="#dbd7ea"/><stop offset="0.89" stop-color="#d6d2e7"/><stop offset="0.8933" stop-color="#d5d0e6"/><stop offset="0.8967" stop-color="#b7b0d6"/><stop offset="0.9" stop-color="#ccc6e1"/><stop offset="0.9033" stop-color="#c4bedd"/><stop offset="0.9067" stop-color="#aba3cf"/><stop offset="0.91" stop-color="#c8c3df"/><stop offset="0.9133" stop-color="#cfcae3"/><stop offset="0.9167" stop-color="#cac4e0"/><stop offset="0.92" stop-color="#b2abd3"/><stop offset="0.9233" stop-color="#b2abd3"/><stop offset="0.9267" stop-color="#c8c3e0"/><stop offset="0.93" stop-color="#c9c3e0"/><stop offset="0.9333" stop-color="#ccc7e2"/><stop offset="0.9367" stop-color="#ccc6e1"/><stop offset="0.94" stop-color="#bab4d8"/><stop offset="0.9433" stop-color="#797abb"/><stop offset="0.9467" stop-color="#5c64b0"/><stop offset="0.95" stop-color="#918cc3"/><stop offset="0.9533" stop-color="#aba4cf"/><stop offset="0.9567" stop-color="#7879ba"/><stop offset="0.96" stop-color="#7879ba"/><stop offset="0.9633" stop-color="#8e8ac2"/><stop offset="0.9667" stop-color="#afa8d2"/><stop offset="0.97" stop-color="#948ec4"/><stop offset="0.9733" stop-color="#9f97c9"/><stop offset="0.9767" stop-color="#9992c6"/><stop offset="0.98" stop-color="#c7c1df"/><stop offset="0.9833" stop-color="#9f97c9"/><stop offset="0.9867" stop-color="#b6b0d5"/><stop offset="0.99" stop-color="#c6c0de"/><stop offset="0.9933" stop-color="#c5bfde"/><stop offset="0.9967" stop-color="#beb8da"/><stop offset="1" stop-color="#c1bbdc"/></linearGradient><linearGradient id="hc3" x1="0" y1="0" x2="0" y2="1"><stop offset="0" stop-color="#a199ca"/><stop offset="0.0033" stop-color="#aea7d1"/><stop offset="0.0067" stop-color="#a8a1ce"/><stop offset="0.01" stop-color="#afa7d1"/><stop offset="0.0133" stop-color="#b1aad3"/><stop offset="0.0167" stop-color="#6067b1"/><stop offset="0.02" stop-color="#8c89c2"/><stop offset="0.0233" stop-color="#686db5"/><stop offset="0.0267" stop-color="#4f60ad"/><stop offset="0.03" stop-color="#5361ae"/><stop offset="0.0333" stop-color="#4f60ad"/><stop offset="0.0367" stop-color="#475dab"/><stop offset="0.04" stop-color="#495dac"/><stop offset="0.0433" stop-color="#4a5eac"/><stop offset="0.0467" stop-color="#ccc7e2"/><stop offset="0.05" stop-color="#a79fcd"/><stop offset="0.0533" stop-color="#a39bcb"/><stop offset="0.0567" stop-color="#9f97c9"/><stop offset="0.06" stop-color="#9e97c8"/><stop offset="0.0633" stop-color="#938ec4"/><stop offset="0.0667" stop-color="#9b94c7"/><stop offset="0.07" stop-color="#b7b0d6"/><stop offset="0.0733" stop-color="#a29aca"/><stop offset="0.0767" stop-color="#9e96c8"/><stop offset="0.08" stop-color="#a69fcd"/><stop offset="0.0833" stop-color="#b1aad3"/><stop offset="0.0867" stop-color="#aaa3cf"/><stop offset="0.09" stop-color="#aca5d0"/><stop offset="0.0933" stop-color="#9791c6"/><stop offset="0.0967" stop-color="#9d95c8"/><stop offset="0.1" stop-color="#938ec4"/><stop offset="0.1033" stop-color="#9f98c9"/><stop offset="0.1067" stop-color="#938dc4"/><stop offset="0.11" stop-color="#9b94c7"/><stop offset="0.1133" stop-color="#8986c0"/><stop offset="0.1167" stop-color="#8885c0"/><stop offset="0.12" stop-color="#8784c0"/><stop offset="0.1233" stop-color="#8281be"/><stop offset="0.1267" stop-color="#a49ccb"/><stop offset="0.13" stop-color="#8583bf"/><stop offset="0.1333" stop-color="#9a93c7"/><stop offset="0.1367" stop-color="#ada5d0"/><stop offset="0.14" stop-color="#9992c6"/><stop offset="0.1433" stop-color="#9992c6"/><stop offset="0.1467" stop-color="#aba4cf"/><stop offset="0.15" stop-color="#8f8ac2"/><stop offset="0.1533" stop-color="#dcd8eb"/><stop offset="0.1567" stop-color="#f9f8fb"/><stop offset="0.16" stop-color="#ffffff"/><stop offset="0.1633" stop-color="#e9e6f2"/><stop offset="0.1667" stop-color="#efedf6"/><stop offset="0.17" stop-color="#bbb4d8"/><stop offset="0.1733" stop-color="#958fc5"/><stop offset="0.1767" stop-color="#a69fcd"/><stop offset="0.18" stop-color="#a29aca"/><stop offset="0.1833" stop-color="#b0a9d2"/><stop offset="0.1867" stop-color="#958fc5"/><stop offset="0.19" stop-color="#bfb9da"/><stop offset="0.1933" stop-color="#f19074"/><stop offset="0.1967" stop-color="#fef1ec"/><stop offset="0.2" stop-color="#fef9f7"/><stop offset="0.2033" stop-color="#f0eff6"/><stop offset="0.2067" stop-color="#fef7f4"/><stop offset="0.21" stop-color="#fef4f0"/><stop offset="0.2133" stop-color="#fce0d6"/><stop offset="0.2167" stop-color="#efeef6"/><stop offset="0.22" stop-color="#f4f3f8"/><stop offset="0.2233" stop-color="#c2bcdc"/><stop offset="0.2267" stop-color="#cfc9e3"/><stop offset="0.23" stop-color="#cec9e3"/><stop offset="0.2333" stop-color="#b7b0d6"/><stop offset="0.2367" stop-color="#c4bedd"/><stop offset="0.24" stop-color="#d7d2e8"/><stop offset="0.2433" stop-color="#cbc5e1"/><stop offset="0.2467" stop-color="#bbb4d8"/><stop offset="0.25" stop-color="#c3bddc"/><stop offset="0.2533" stop-color="#908cc3"/><stop offset="0.2567" stop-color="#a79fcd"/><stop offset="0.26" stop-color="#9791c6"/><stop offset="0.2633" stop-color="#9e96c8"/><stop offset="0.2667" stop-color="#bab4d8"/><stop offset="0.27" stop-color="#9f97c9"/><stop offset="0.2733" stop-color="#a49dcc"/><stop offset="0.2767" stop-color="#9993c6"/><stop offset="0.28" stop-color="#9c94c7"/><stop offset="0.2833" stop-color="#bfb9da"/><stop offset="0.2867" stop-color="#b7b0d6"/><stop offset="0.29" stop-color="#cac4e0"/><stop offset="0.2933" stop-color="#8986c0"/><stop offset="0.2967" stop-color="#9d95c8"/><stop offset="0.3" stop-color="#bfb9da"/><stop offset="0.3033" stop-color="#b9b2d7"/><stop offset="0.3067" stop-color="#b7b0d6"/><stop offset="0.31" stop-color="#b6b0d6"/><stop offset="0.3133" stop-color="#aaa3cf"/><stop offset="0.3167" stop-color="#aaa2ce"/><stop offset="0.32" stop-color="#c5bfde"/><stop offset="0.3233" stop-color="#cfcae3"/><stop offset="0.3267" stop-color="#c2bcdc"/><stop offset="0.33" stop-color="#c9c3e0"/><stop offset="0.3333" stop-color="#d7d2e8"/><stop offset="0.3367" stop-color="#b5afd5"/><stop offset="0.34" stop-color="#bab4d8"/><stop offset="0.3433" stop-color="#b2abd3"/><stop offset="0.3467" stop-color="#a69ecc"/><stop offset="0.35" stop-color="#a7a0cd"/><stop offset="0.3533" stop-color="#c8c3df"/><stop offset="0.3567" stop-color="#b0a9d2"/><stop offset="0.36" stop-color="#a49ccb"/><stop offset="0.3633" stop-color="#bab3d7"/><stop offset="0.3667" stop-color="#cec9e3"/><stop offset="0.37" stop-color="#9992c6"/><stop offset="0.3733" stop-color="#a098c9"/><stop offset="0.3767" stop-color="#aba4cf"/><stop offset="0.38" stop-color="#a199c9"/><stop offset="0.3833" stop-color="#facbbc"/><stop offset="0.3867" stop-color="#fce3da"/><stop offset="0.39" stop-color="#b6afd5"/><stop offset="0.3933" stop-color="#c2bcdc"/><stop offset="0.3967" stop-color="#b1aad2"/><stop offset="0.4" stop-color="#b3acd4"/><stop offset="0.4033" stop-color="#bdb7d9"/><stop offset="0.4067" stop-color="#dad6ea"/><stop offset="0.41" stop-color="#6067b2"/><stop offset="0.4133" stop-color="#948ec4"/><stop offset="0.4167" stop-color="#a59dcc"/><stop offset="0.42" stop-color="#9a93c7"/><stop offset="0.4233" stop-color="#aea7d1"/><stop offset="0.4267" stop-color="#958fc5"/><stop offset="0.43" stop-color="#8f8ac2"/><stop offset="0.4333" stop-color="#8986c0"/><stop offset="0.4367" stop-color="#7b7cbb"/><stop offset="0.44" stop-color="#a9a2ce"/><stop offset="0.4433" stop-color="#9791c6"/><stop offset="0.4467" stop-color="#a8a1ce"/><stop offset="0.45" stop-color="#a29aca"/><stop offset="0.4533" stop-color="#9e96c8"/><stop offset="0.4567" stop-color="#8583bf"/><stop offset="0.46" stop-color="#a49dcb"/><stop offset="0.4633" stop-color="#aca5d0"/><stop offset="0.4667" stop-color="#aca5d0"/><stop offset="0.47" stop-color="#ef866a"/><stop offset="0.4733" stop-color="#f39d84"/><stop offset="0.4767" stop-color="#fef3f0"/><stop offset="0.48" stop-color="#fde6de"/><stop offset="0.4833" stop-color="#fce1d8"/><stop offset="0.4867" stop-color="#fef7f5"/><stop offset="0.49" stop-color="#fefeff"/><stop offset="0.4933" stop-color="#fef9f7"/><stop offset="0.4967" stop-color="#fcdbd0"/><stop offset="0.5" stop-color="#fcdcd1"/><stop offset="0.5033" stop-color="#fef7f4"/><stop offset="0.5067" stop-color="#fcded4"/><stop offset="0.51" stop-color="#fbd3c6"/><stop offset="0.5133" stop-color="#faccbc"/><stop offset="0.5167" stop-color="#fdeae3"/><stop offset="0.52" stop-color="#fce3db"/><stop offset="0.5233" stop-color="#fde8e0"/><stop offset="0.5267" stop-color="#fcdbd0"/><stop offset="0.53" stop-color="#fde6de"/><stop offset="0.5333" stop-color="#f7f6fa"/><stop offset="0.5367" stop-color="#fef4f1"/><stop offset="0.54" stop-color="#fffefd"/><stop offset="0.5433" stop-color="#fffbf9"/><stop offset="0.5467" stop-color="#dfdced"/><stop offset="0.55" stop-color="#e1dded"/><stop offset="0.5533" stop-color="#e5e2f0"/><stop offset="0.5567" stop-color="#f5f4f9"/><stop offset="0.56" stop-color="#f8bdaa"/><stop offset="0.5633" stop-color="#f9c2b1"/><stop offset="0.5667" stop-color="#ffffff"/><stop offset="0.57" stop-color="#f9f9fc"/><stop offset="0.5733" stop-color="#fdfdfe"/><stop offset="0.5767" stop-color="#fef3f0"/><stop offset="0.58" stop-color="#f9c8b7"/><stop offset="0.5833" stop-color="#f6b29d"/><stop offset="0.5867" stop-color="#e8e5f1"/><stop offset="0.59" stop-color="#e5e2f0"/><stop offset="0.5933" stop-color="#d7d2e8"/><stop offset="0.5967" stop-color="#e9e6f2"/><stop offset="0.6" stop-color="#fcdfd5"/><stop offset="0.6033" stop-color="#f39e86"/><stop offset="0.6067" stop-color="#faccbc"/><stop offset="0.61" stop-color="#f8beac"/><stop offset="0.6133" stop-color="#fbd8cc"/><stop offset="0.6167" stop-color="#f6b19c"/><stop offset="0.62" stop-color="#f7bba8"/><stop offset="0.6233" stop-color="#f08b6f"/><stop offset="0.6267" stop-color="#f39f87"/><stop offset="0.63" stop-color="#f8c1af"/><stop offset="0.6333" stop-color="#fbd1c3"/><stop offset="0.6367" stop-color="#f4a790"/><stop offset="0.64" stop-color="#f6b09b"/><stop offset="0.6433" stop-color="#f8bfad"/><stop offset="0.6467" stop-color="#f4a58d"/><stop offset="0.65" stop-color="#f7b6a2"/><stop offset="0.6533" stop-color="#f6af9a"/><stop offset="0.6567" stop-color="#f8bfad"/><stop offset="0.66" stop-color="#f8beac"/><stop offset="0.6633" stop-color="#f8bca9"/><stop offset="0.6667" stop-color="#fbd4c6"/><stop offset="0.67" stop-color="#f4a48c"/><stop offset="0.6733" stop-color="#f5a992"/><stop offset="0.6767" stop-color="#fbd6c9"/><stop offset="0.68" stop-color="#eb6047"/><stop offset="0.6833" stop-color="#e84334"/><stop offset="0.6867" stop-color="#eb5d44"/><stop offset="0.69" stop-color="#f0886c"/><stop offset="0.6933" stop-color="#f5ab95"/><stop offset="0.6967" stop-color="#f4a58e"/><stop offset="0.7" stop-color="#f9c3b2"/><stop offset="0.7033" stop-color="#f7baa7"/><stop offset="0.7067" stop-color="#facfc0"/><stop offset="0.71" stop-color="#f7baa7"/><stop offset="0.7133" stop-color="#f3a087"/><stop offset="0.7167" stop-color="#f29980"/><stop offset="0.72" stop-color="#f08b6f"/><stop offset="0.7233" stop-color="#f4a28a"/><stop offset="0.7267" stop-color="#f8bca9"/><stop offset="0.73" stop-color="#f7b5a1"/><stop offset="0.7333" stop-color="#f8c1b0"/><stop offset="0.7367" stop-color="#f2997f"/><stop offset="0.74" stop-color="#f1957b"/><stop offset="0.7433" stop-color="#f5aa94"/><stop offset="0.7467" stop-color="#f5a992"/><stop offset="0.75" stop-color="#f29980"/><stop offset="0.7533" stop-color="#f0886c"/><stop offset="0.7567" stop-color="#f39e85"/><stop offset="0.76" stop-color="#ec6b52"/><stop offset="0.7633" stop-color="#ec684f"/><stop offset="0.7667" stop-color="#eb644b"/><stop offset="0.77" stop-color="#ed7258"/><stop offset="0.7733" stop-color="#f08b6f"/><stop offset="0.7767" stop-color="#e41b1c"/><stop offset="0.78" stop-color="#e41a1c"/><stop offset="0.7833" stop-color="#e41a1c"/><stop offset="0.7867" stop-color="#e41a1c"/><stop offset="0.79" stop-color="#e41a1c"/><stop offset="0.7933" stop-color="#e41a1c"/><stop offset="0.7967" stop-color="#e41d1e"/><stop offset="0.8" stop-color="#e41a1c"/><stop offset="0.8033" stop-color="#e52422"/><stop offset="0.8067" stop-color="#e41a1c"/><stop offset="0.81" stop-color="#e52422"/><stop offset="0.8133" stop-color="#e41a1c"/><stop offset="0.8167" stop-color="#e41a1c"/><stop offset="0.82" stop-color="#e41e1e"/><stop offset="0.8233" stop-color="#e41c1d"/><stop offset="0.8267" stop-color="#e41a1c"/><stop offset="0.83" stop-color="#e41a1c"/><stop offset="0.8333" stop-color="#e41a1c"/><stop offset="0.8367" stop-color="#e41e1f"/><stop offset="0.84" stop-color="#e52824"/><stop offset="0.8433" stop-color="#e41e1e"/><stop offset="0.8467" stop-color="#e41a1c"/><stop offset="0.85" stop-color="#e41a1c"/><stop offset="0.8533" stop-color="#e41b1d"/><stop offset="0.8567" stop-color="#e51f1f"/><stop offset="0.86" stop-color="#e41a1c"/><stop offset="0.8633" stop-color="#e41a1c"/><stop offset="0.8667" stop-color="#e52321"/><stop offset="0.87" stop-color="#e52221"/><stop offset="0.8733" stop-color="#e41a1c"/><stop offset="0.8767" stop-color="#e41a1c"/><stop offset="0.88" stop-color="#e41a1c"/><stop offset="0.8833" stop-color="#e41a1c"/><stop offset="0.8867" stop-color="#e41c1d"/><stop offset="0.89" stop-color="#e41a1c"/><stop offset="0.8933" stop-color="#e41a1c"/><stop offset="0.8967" stop-color="#e41c1d"/><stop offset="0.9" stop-color="#e41c1d"/><stop offset="0.9033" stop-color="#e6332b"/><stop offset="0.9067" stop-color="#e63129"/><stop offset="0.91" stop-color="#e73e31"/><stop offset="0.9133" stop-color="#e7342b"/><stop offset="0.9167" stop-color="#e7352c"/><stop offset="0.92" stop-color="#e62d27"/><stop offset="0.9233" stop-color="#e6322a"/><stop offset="0.9267" stop-color="#ef8065"/><stop offset="0.93" stop-color="#ea533d"/><stop offset="0.9333" stop-color="#ea5b43"/><stop offset="0.9367" stop-color="#eb634a"/><stop offset="0.94" stop-color="#e73e31"/><stop offset="0.9433" stop-color="#e52321"/><stop offset="0.9467" stop-color="#e7392e"/><stop offset="0.95" stop-color="#e52925"/><stop offset="0.9533" stop-color="#e6332b"/><stop offset="0.9567" stop-color="#e63029"/><stop offset="0.96" stop-color="#ec6b51"/><stop offset="0.9633" stop-color="#ed745a"/><stop offset="0.9667" stop-color="#ee7c61"/><stop offset="0.97" stop-color="#ee7a60"/><stop offset="0.9733" stop-color="#ef8065"/><stop offset="0.9767" stop-color="#eb6149"/><stop offset="0.98" stop-color="#ef8368"/><stop offset="0.9833" stop-color="#ee7b60"/><stop offset="0.9867" stop-color="#ee7c61"/><stop offset="0.99" stop-color="#f0886c"/><stop offset="0.9933" stop-color="#ee7c62"/><stop offset="0.9967" stop-color="#f29b81"/><stop offset="1" stop-color="#ed6e54"/></linearGradient><linearGradient id="hc4" x1="0" y1="0" x2="0" y2="1"><stop offset="0" stop-color="#d4cfe6"/><stop offset="0.0033" stop-color="#c9c4e0"/><stop offset="0.0067" stop-color="#dedbec"/><stop offset="0.01" stop-color="#a7a0cd"/><stop offset="0.0133" stop-color="#bab4d8"/><stop offset="0.0167" stop-color="#b9b3d7"/><stop offset="0.02" stop-color="#aba4cf"/><stop offset="0.0233" stop-color="#afa8d2"/><stop offset="0.0267" stop-color="#bfb9da"/><stop offset="0.03" stop-color="#b3add4"/><stop offset="0.0333" stop-color="#b7b0d6"/><stop offset="0.0367" stop-color="#fce2d9"/><stop offset="0.04" stop-color="#fef2ee"/><stop offset="0.0433" stop-color="#f5f4f9"/><stop offset="0.0467" stop-color="#8986c0"/><stop offset="0.05" stop-color="#a59dcc"/><stop offset="0.0533" stop-color="#948fc4"/><stop offset="0.0567" stop-color="#8281be"/><stop offset="0.06" stop-color="#7274b8"/><stop offset="0.0633" stop-color="#9d95c8"/><stop offset="0.0667" stop-color="#afa8d2"/><stop offset="0.07" stop-color="#7f7fbd"/><stop offset="0.0733" stop-color="#8684bf"/><stop offset="0.0767" stop-color="#b1aad3"/><stop offset="0.08" stop-color="#a29aca"/><stop offset="0.0833" stop-color="#a69ecc"/><stop offset="0.0867" stop-color="#a59ecc"/><stop offset="0.09" stop-color="#9c95c7"/><stop offset="0.0933" stop-color="#b0a9d2"/><stop offset="0.0967" stop-color="#b7b0d6"/><stop offset="0.1" stop-color="#afa8d1"/><stop offset="0.1033" stop-color="#a29aca"/><stop offset="0.1067" stop-color="#d2cde5"/><stop offset="0.11" stop-color="#c3bddc"/><stop offset="0.1133" stop-color="#ccc7e2"/><stop offset="0.1167" stop-color="#b8b2d6"/><stop offset="0.12" stop-color="#b3acd4"/><stop offset="0.1233" stop-color="#b5aed5"/><stop offset="0.1267" stop-color="#bcb6d9"/><stop offset="0.13" stop-color="#aaa3cf"/><stop offset="0.1333" stop-color="#b0a9d2"/><stop offset="0.1367" stop-color="#8c88c1"/><stop offset="0.14" stop-color="#a69ecc"/><stop offset="0.1433" stop-color="#a49ccb"/><stop offset="0.1467" stop-color="#a9a1ce"/><stop offset="0.15" stop-color="#908bc3"/><stop offset="0.1533" stop-color="#807fbd"/><stop offset="0.1567" stop-color="#9590c5"/><stop offset="0.16" stop-color="#938ec4"/><stop offset="0.1633" stop-color="#8986c0"/><stop offset="0.1667" stop-color="#ebe8f3"/><stop offset="0.17" stop-color="#eeecf5"/><stop offset="0.1733" stop-color="#c1bbdb"/><stop offset="0.1767" stop-color="#cbc5e1"/><stop offset="0.18" stop-color="#c1bbdb"/><stop offset="0.1833" stop-color="#aea7d1"/><stop offset="0.1867" stop-color="#b4add4"/><stop offset="0.19" stop-color="#b7b0d6"/><stop offset="0.1933" stop-color="#8f8ac2"/><stop offset="0.1967" stop-color="#938ec4"/><stop offset="0.2" stop-color="#8482be"/><stop offset="0.2033" stop-color="#958fc5"/><stop offset="0.2067" stop-color="#7174b8"/><stop offset="0.21" stop-color="#4f60ad"/><stop offset="0.2133" stop-color="#6c70b6"/><stop offset="0.2167" stop-color="#5762af"/><stop offset="0.22" stop-color="#b0a9d2"/><stop offset="0.2233" stop-color="#7f7fbd"/><stop offset="0.2267" stop-color="#8382be"/><stop offset="0.23" stop-color="#928dc4"/><stop offset="0.2333" stop-color="#b0a9d2"/><stop offset="0.2367" stop-color="#b9b2d7"/><stop offset="0.24" stop-color="#9690c5"/><stop offset="0.2433" stop-color="#908bc3"/><stop offset="0.2467" stop-color="#8f8bc3"/><stop offset="0.25" stop-color="#918dc3"/><stop offset="0.2533" stop-color="#dbd7ea"/><stop offset="0.2567" stop-color="#d2cde5"/><stop offset="0.26" stop-color="#e8e5f2"/><stop offset="0.2633" stop-color="#ddd9eb"/><stop offset="0.2667" stop-color="#a9a2ce"/><stop offset="0.27" stop-color="#b6afd5"/><stop offset="0.2733" stop-color="#b1aad2"/><stop offset="0.2767" stop-color="#beb7da"/><stop offset="0.28" stop-color="#bfb9da"/><stop offset="0.2833" stop-color="#aea7d1"/><stop offset="0.2867" stop-color="#dedaec"/><stop offset="0.29" stop-color="#dbd7ea"/><stop offset="0.2933" stop-color="#d5d0e6"/><stop offset="0.2967" stop-color="#d8d4e8"/><stop offset="0.3" stop-color="#aba4cf"/><stop offset="0.3033" stop-color="#9c94c7"/><stop offset="0.3067" stop-color="#9590c5"/><stop offset="0.31" stop-color="#b4add4"/><stop offset="0.3133" stop-color="#a199ca"/><stop offset="0.3167" stop-color="#9791c5"/><stop offset="0.32" stop-color="#c2bcdc"/><stop offset="0.3233" stop-color="#a8a0cd"/><stop offset="0.3267" stop-color="#bcb6d9"/><stop offset="0.33" stop-color="#a9a2ce"/><stop offset="0.3333" stop-color="#b6afd5"/><stop offset="0.3367" stop-color="#a49ccb"/><stop offset="0.34" stop-color="#b2abd3"/><stop offset="0.3433" stop-color="#b7b0d6"/><stop offset="0.3467" stop-color="#a7a0cd"/><stop offset="0.35" stop-color="#9791c6"/><stop offset="0.3533" stop-color="#c3bddc"/><stop offset="0.3567" stop-color="#a199ca"/><stop offset="0.36" stop-color="#bfb9da"/><stop offset="0.3633" stop-color="#a29bca"/><stop offset="0.3667" stop-color="#938ec4"/><stop offset="0.37" stop-color="#c4bedd"/><stop offset="0.3733" stop-color="#a49ccb"/><stop offset="0.3767" stop-color="#b5aed5"/><stop offset="0.38" stop-color="#bbb4d8"/><stop offset="0.3833" stop-color="#9690c5"/><stop offset="0.3867" stop-color="#e6e3f0"/><stop offset="0.39" stop-color="#e0dded"/><stop offset="0.3933" stop-color="#c4bedd"/><stop offset="0.3967" stop-color="#bbb5d8"/><stop offset="0.4" stop-color="#aba3cf"/><stop offset="0.4033" stop-color="#bcb6d9"/><stop offset="0.4067" stop-color="#c6c0de"/><stop offset="0.41" stop-color="#fef8f6"/><stop offset="0.4133" stop-color="#fdede8"/><stop offset="0.4167" stop-color="#fffbfa"/><stop offset="0.42" stop-color="#807fbd"/><stop offset="0.4233" stop-color="#8885c0"/><stop offset="0.4267" stop-color="#8482bf"/><stop offset="0.43" stop-color="#9a93c7"/><stop offset="0.4333" stop-color="#948ec4"/><stop offset="0.4367" stop-color="#928dc4"/><stop offset="0.44" stop-color="#8f8bc3"/><stop offset="0.4433" stop-color="#8482bf"/><stop offset="0.4467" stop-color="#a39bcb"/><stop offset="0.45" stop-color="#c1bbdc"/><stop offset="0.4533" stop-color="#cbc5e1"/><stop offset="0.4567" stop-color="#b6afd5"/><stop offset="0.46" stop-color="#afa8d2"/><stop offset="0.4633" stop-color="#b2abd3"/><stop offset="0.4667" stop-color="#c3bddd"/><stop offset="0.47" stop-color="#f9c5b4"/><stop offset="0.4733" stop-color="#fcdbd0"/><stop offset="0.4767" stop-color="#e41f1f"/><stop offset="0.48" stop-color="#e51f1f"/><stop offset="0.4833" stop-color="#e41a1c"/><stop offset="0.4867" stop-color="#e52422"/><stop offset="0.49" stop-color="#e41d1e"/><stop offset="0.4933" stop-color="#eb6149"/><stop offset="0.4967" stop-color="#ee7a5f"/><stop offset="0.5" stop-color="#e73e31"/><stop offset="0.5033" stop-color="#ef7f64"/><stop offset="0.5067" stop-color="#eb5d44"/><stop offset="0.51" stop-color="#eb5d44"/><stop offset="0.5133" stop-color="#ed755b"/><stop offset="0.5167" stop-color="#ee7c61"/><stop offset="0.52" stop-color="#ec6b52"/><stop offset="0.5233" stop-color="#ec6950"/><stop offset="0.5267" stop-color="#f3a088"/><stop offset="0.53" stop-color="#f0896d"/><stop offset="0.5333" stop-color="#eb6148"/><stop offset="0.5367" stop-color="#ed6f55"/><stop offset="0.54" stop-color="#f08a6e"/><stop offset="0.5433" stop-color="#f2997f"/><stop offset="0.5467" stop-color="#f19176"/><stop offset="0.55" stop-color="#f19378"/><stop offset="0.5533" stop-color="#e84334"/><stop offset="0.5567" stop-color="#f39f87"/><stop offset="0.56" stop-color="#fbd5c8"/><stop offset="0.5633" stop-color="#fce3db"/><stop offset="0.5667" stop-color="#fde7e0"/><stop offset="0.57" stop-color="#ed7359"/><stop offset="0.5733" stop-color="#ef7f64"/><stop offset="0.5767" stop-color="#ea533d"/><stop offset="0.58" stop-color="#dbd6ea"/><stop offset="0.5833" stop-color="#d5d1e7"/><stop offset="0.5867" stop-color="#d5d0e6"/><stop offset="0.59" stop-color="#fde7e0"/><stop offset="0.5933" stop-color="#fffaf8"/><stop offset="0.5967" stop-color="#fdeee9"/><stop offset="0.6" stop-color="#cfc9e3"/><stop offset="0.6033" stop-color="#dcd8ea"/><stop offset="0.6067" stop-color="#dbd7ea"/><stop offset="0.61" stop-color="#f4f2f8"/><stop offset="0.6133" stop-color="#fef7f5"/><stop offset="0.6167" stop-color="#fde8e0"/><stop offset="0.62" stop-color="#faf9fc"/><stop offset="0.6233" stop-color="#f8c0ae"/><stop offset="0.6267" stop-color="#f08e73"/><stop offset="0.63" stop-color="#f4a891"/><stop offset="0.6333" stop-color="#f6af9a"/><stop offset="0.6367" stop-color="#f8c1af"/><stop offset="0.64" stop-color="#f1947a"/><stop offset="0.6433" stop-color="#f4a68e"/><stop offset="0.6467" stop-color="#f19379"/><stop offset="0.65" stop-color="#f08e73"/><stop offset="0.6533" stop-color="#f0896d"/><stop offset="0.6567" stop-color="#f3a088"/><stop offset="0.66" stop-color="#f4a58e"/><stop offset="0.6633" stop-color="#f2987e"/><stop offset="0.6667" stop-color="#f29b82"/><stop offset="0.67" stop-color="#f1947a"/><stop offset="0.6733" stop-color="#f4a58e"/><stop offset="0.6767" stop-color="#f5f3f9"/><stop offset="0.68" stop-color="#f2f0f7"/><stop offset="0.6833" stop-color="#f2f0f7"/><stop offset="0.6867" stop-color="#f5ae99"/><stop offset="0.69" stop-color="#f2997f"/><stop offset="0.6933" stop-color="#f8bdab"/><stop offset="0.6967" stop-color="#f4a58e"/><stop offset="0.7" stop-color="#eb654c"/><stop offset="0.7033" stop-color="#ec6a51"/><stop offset="0.7067" stop-color="#eb5d45"/><stop offset="0.71" stop-color="#ee795f"/><stop offset="0.7133" stop-color="#eb6047"/><stop offset="0.7167" stop-color="#ec664d"/><stop offset="0.72" stop-color="#f9c6b5"/><stop offset="0.7233" stop-color="#eb654c"/><stop offset="0.7267" stop-color="#eb5f46"/><stop offset="0.73" stop-color="#e73b2f"/><stop offset="0.7333" stop-color="#ef8569"/><stop offset="0.7367" stop-color="#ec6a51"/><stop offset="0.74" stop-color="#eb654c"/><stop offset="0.7433" stop-color="#ef8367"/><stop offset="0.7467" stop-color="#e7352c"/><stop offset="0.75" stop-color="#e94b38"/><stop offset="0.7533" stop-color="#ec6b52"/><stop offset="0.7567" stop-color="#ed755b"/><stop offset="0.76" stop-color="#eb6249"/><stop offset="0.7633" stop-color="#e41a1c"/><stop offset="0.7667" stop-color="#e41a1c"/><stop offset="0.77" stop-color="#f2967c"/><stop offset="0.7733" stop-color="#ef8469"/><stop offset="0.7767" stop-color="#fbd6c9"/><stop offset="0.78" stop-color="#fce1d8"/><stop offset="0.7833" stop-color="#fde9e2"/><stop offset="0.7867" stop-color="#fbd7ca"/><stop offset="0.79" stop-color="#f8bca9"/><stop offset="0.7933" stop-color="#f7b8a5"/><stop offset="0.7967" stop-color="#f7b9a5"/><stop offset="0.8" stop-color="#fbd3c6"/><stop offset="0.8033" stop-color="#f4a38b"/><stop offset="0.8067" stop-color="#f9c8b7"/><stop offset="0.81" stop-color="#e1dded"/><stop offset="0.8133" stop-color="#dcd8eb"/><stop offset="0.8167" stop-color="#fffffe"/><stop offset="0.82" stop-color="#fffefd"/><stop offset="0.8233" stop-color="#ffffff"/><stop offset="0.8267" stop-color="#f1eff7"/><stop offset="0.83" stop-color="#fdfcfe"/><stop offset="0.8333" stop-color="#fffbfa"/><stop offset="0.8367" stop-color="#e0dded"/><stop offset="0.84" stop-color="#e1deee"/><stop offset="0.8433" stop-color="#f7f6fa"/><stop offset="0.8467" stop-color="#f5f3f9"/><stop offset="0.85" stop-color="#e1dded"/><stop offset="0.8533" stop-color="#fffbf9"/><stop offset="0.8567" stop-color="#ffffff"/><stop offset="0.86" stop-color="#f7b8a4"/><stop offset="0.8633" stop-color="#fad0c2"/><stop offset="0.8667" stop-color="#facfc0"/><stop offset="0.87" stop-color="#fbd7cb"/><stop offset="0.8733" stop-color="#f9c7b7"/><stop offset="0.8767" stop-color="#facdbe"/><stop offset="0.88" stop-color="#fbd6c9"/><stop offset="0.8833" stop-color="#fbd1c2"/><stop offset="0.8867" stop-color="#fbd7cb"/><stop offset="0.89" stop-color="#fbfbfd"/><stop offset="0.8933" stop-color="#eeecf5"/><stop offset="0.8967" stop-color="#fce4dc"/><stop offset="0.9" stop-color="#fcdbcf"/><stop offset="0.9033" stop-color="#f7b5a1"/><stop offset="0.9067" stop-color="#fbd3c6"/><stop offset="0.91" stop-color="#f8beac"/><stop offset="0.9133" stop-color="#f8bcaa"/><stop offset="0.9167" stop-color="#fbd3c6"/><stop offset="0.92" stop-color="#f8bca9"/><stop offset="0.9233" stop-color="#f8c1af"/><stop offset="0.9267" stop-color="#f08d71"/><stop offset="0.93" stop-color="#f39d85"/><stop offset="0.9333" stop-color="#f08d72"/><stop offset="0.9367" stop-color="#f5ac96"/><stop offset="0.94" stop-color="#f19378"/><stop offset="0.9433" stop-color="#f29a81"/><stop offset="0.9467" stop-color="#ef8368"/><stop offset="0.95" stop-color="#fef0eb"/><stop offset="0.9533" stop-color="#fffdfc"/><stop offset="0.9567" stop-color="#fde9e2"/><stop offset="0.96" stop-color="#f6b39f"/><stop offset="0.9633" stop-color="#facab9"/><stop offset="0.9667" stop-color="#fbd7cb"/><stop offset="0.97" stop-color="#f8c1af"/><stop offset="0.9733" stop-color="#fef3ef"/><stop offset="0.9767" stop-color="#fbd4c7"/><stop offset="0.98" stop-color="#f8bfad"/><stop offset="0.9833" stop-color="#f4a38c"/><stop offset="0.9867" stop-color="#fbd7cb"/><stop offset="0.99" stop-color="#f5ad97"/><stop offset="0.9933" stop-color="#f39d84"/><stop offset="0.9967" stop-color="#f4a58e"/><stop offset="1" stop-color="#fef2ee"/></linearGradient><linearGradient id="hc5" x1="0" y1="0" x2="0" y2="1"><stop offset="0" stop-color="#bab3d7"/><stop offset="0.0033" stop-color="#ada5d0"/><stop offset="0.0067" stop-color="#b8b2d7"/><stop offset="0.01" stop-color="#a7a0cd"/><stop offset="0.0133" stop-color="#a199ca"/><stop offset="0.0167" stop-color="#cac5e1"/><stop offset="0.02" stop-color="#dedaec"/><stop offset="0.0233" stop-color="#d7d2e8"/><stop offset="0.0267" stop-color="#cac4e0"/><stop offset="0.03" stop-color="#d2cde5"/><stop offset="0.0333" stop-color="#d7d3e8"/><stop offset="0.0367" stop-color="#bbb4d8"/><stop offset="0.04" stop-color="#b2abd3"/><stop offset="0.0433" stop-color="#aaa2ce"/><stop offset="0.0467" stop-color="#a8a1ce"/><stop offset="0.05" stop-color="#ada5d0"/><stop offset="0.0533" stop-color="#aba4cf"/><stop offset="0.0567" stop-color="#9c95c7"/><stop offset="0.06" stop-color="#9f97c9"/><stop offset="0.0633" stop-color="#aea7d1"/><stop offset="0.0667" stop-color="#8d89c2"/><stop offset="0.07" stop-color="#8a87c1"/><stop offset="0.0733" stop-color="#a098c9"/><stop offset="0.0767" stop-color="#b6b0d6"/><stop offset="0.08" stop-color="#b4add4"/><stop offset="0.0833" stop-color="#9a93c7"/><stop offset="0.0867" stop-color="#8f8bc2"/><stop offset="0.09" stop-color="#9891c6"/><stop offset="0.0933" stop-color="#918cc3"/><stop offset="0.0967" stop-color="#9891c6"/><stop offset="0.1" stop-color="#a8a1ce"/><stop offset="0.1033" stop-color="#8e8ac2"/><stop offset="0.1067" stop-color="#938ec4"/><stop offset="0.11" stop-color="#9d95c8"/><stop offset="0.1133" stop-color="#a9a2ce"/><stop offset="0.1167" stop-color="#9f97c8"/><stop offset="0.12" stop-color="#9e96c8"/><stop offset="0.1233" stop-color="#9992c6"/><stop offset="0.1267" stop-color="#9f97c9"/><stop offset="0.13" stop-color="#b1aad3"/><stop offset="0.1333" stop-color="#a69fcd"/><stop offset="0.1367" stop-color="#7677b9"/><stop offset="0.14" stop-color="#b3acd4"/><stop offset="0.1433" stop-color="#a9a1ce"/><stop offset="0.1467" stop-color="#9d95c8"/><stop offset="0.15" stop-color="#a69fcd"/><stop offset="0.1533" stop-color="#7778ba"/><stop offset="0.1567" stop-color="#8f8bc3"/><stop offset="0.16" stop-color="#bbb4d8"/><stop offset="0.1633" stop-color="#dedaec"/><stop offset="0.1667" stop-color="#dedbec"/><stop offset="0.17" stop-color="#bbb4d8"/><stop offset="0.1733" stop-color="#c5bfde"/><stop offset="0.1767" stop-color="#cfc9e3"/><stop offset="0.18" stop-color="#b4add4"/><stop offset="0.1833" stop-color="#dad5e9"/><stop offset="0.1867" stop-color="#bbb4d8"/><stop offset="0.19" stop-color="#9d96c8"/><stop offset="0.1933" stop-color="#8180be"/><stop offset="0.1967" stop-color="#9e96c8"/><stop offset="0.2" stop-color="#9690c5"/><stop offset="0.2033" stop-color="#a9a1ce"/><stop offset="0.2067" stop-color="#8180bd"/><stop offset="0.21" stop-color="#9790c5"/><stop offset="0.2133" stop-color="#b4add4"/><stop offset="0.2167" stop-color="#8080bd"/><stop offset="0.22" stop-color="#afa8d1"/><stop offset="0.2233" stop-color="#b0a9d2"/><stop offset="0.2267" stop-color="#a39bcb"/><stop offset="0.23" stop-color="#a69ecc"/><stop offset="0.2333" stop-color="#beb8da"/><stop offset="0.2367" stop-color="#d3cee6"/><stop offset="0.24" stop-color="#ccc6e1"/><stop offset="0.2433" stop-color="#c8c2df"/><stop offset="0.2467" stop-color="#b5afd5"/><stop offset="0.25" stop-color="#c6c0de"/><stop offset="0.2533" stop-color="#bcb5d9"/><stop offset="0.2567" stop-color="#b1aad2"/><stop offset="0.26" stop-color="#8986c0"/><stop offset="0.2633" stop-color="#7c7cbc"/><stop offset="0.2667" stop-color="#9590c5"/><stop offset="0.27" stop-color="#b5aed5"/><stop offset="0.2733" stop-color="#aba4cf"/><stop offset="0.2767" stop-color="#aea7d1"/><stop offset="0.28" stop-color="#b7b1d6"/><stop offset="0.2833" stop-color="#bfb9da"/><stop offset="0.2867" stop-color="#b6afd5"/><stop offset="0.29" stop-color="#c4bedd"/><stop offset="0.2933" stop-color="#9f97c8"/><stop offset="0.2967" stop-color="#b9b3d7"/><stop offset="0.3" stop-color="#faf9fc"/><stop offset="0.3033" stop-color="#eae8f3"/><stop offset="0.3067" stop-color="#cdc7e2"/><stop offset="0.31" stop-color="#a69ecc"/><stop offset="0.3133" stop-color="#a8a0cd"/><stop offset="0.3167" stop-color="#dedaec"/><stop offset="0.32" stop-color="#cdc8e2"/><stop offset="0.3233" stop-color="#c1bbdb"/><stop offset="0.3267" stop-color="#d6d1e7"/><stop offset="0.33" stop-color="#d4cfe6"/><stop offset="0.3333" stop-color="#b5afd5"/><stop offset="0.3367" stop-color="#cbc5e1"/><stop offset="0.34" stop-color="#d6d2e7"/><stop offset="0.3433" stop-color="#c2bcdc"/><stop offset="0.3467" stop-color="#c5c0de"/><stop offset="0.35" stop-color="#a39bcb"/><stop offset="0.3533" stop-color="#b4aed4"/><stop offset="0.3567" stop-color="#a29aca"/><stop offset="0.36" stop-color="#a199ca"/><stop offset="0.3633" stop-color="#9790c5"/><stop offset="0.3667" stop-color="#9c94c7"/><stop offset="0.37" stop-color="#ada6d0"/><stop offset="0.3733" stop-color="#b1aad2"/><stop offset="0.3767" stop-color="#a49ccb"/><stop offset="0.38" stop-color="#9a93c6"/><stop offset="0.3833" stop-color="#afa8d1"/><stop offset="0.3867" stop-color="#c0badb"/><stop offset="0.39" stop-color="#cdc8e2"/><stop offset="0.3933" stop-color="#b5aed5"/><stop offset="0.3967" stop-color="#b6afd5"/><stop offset="0.4" stop-color="#c3bddc"/><stop offset="0.4033" stop-color="#d0cbe4"/><stop offset="0.4067" stop-color="#8b88c1"/><stop offset="0.41" stop-color="#8a87c1"/><stop offset="0.4133" stop-color="#7a7abb"/><stop offset="0.4167" stop-color="#8583bf"/><stop offset="0.42" stop-color="#9e96c8"/><stop offset="0.4233" stop-color="#fdfdfe"/><stop offset="0.4267" stop-color="#fffefe"/><stop offset="0.43" stop-color="#e9e6f2"/><stop offset="0.4333" stop-color="#fdfdfe"/><stop offset="0.4367" stop-color="#efedf6"/><stop offset="0.44" stop-color="#fbfbfd"/><stop offset="0.4433" stop-color="#a59dcc"/><stop offset="0.4467" stop-color="#c3bddd"/><stop offset="0.45" stop-color="#b9b2d7"/><stop offset="0.4533" stop-color="#d5d0e7"/><stop offset="0.4567" stop-color="#c6c0de"/><stop offset="0.46" stop-color="#d5d0e7"/><stop offset="0.4633" stop-color="#bfb8da"/><stop offset="0.4667" stop-color="#e84837"/><stop offset="0.47" stop-color="#ef8166"/><stop offset="0.4733" stop-color="#e94a38"/><stop offset="0.4767" stop-color="#fef1ed"/><stop offset="0.48" stop-color="#fef8f6"/><stop offset="0.4833" stop-color="#fcddd3"/><stop offset="0.4867" stop-color="#fef0eb"/><stop offset="0.49" stop-color="#fdebe5"/><stop offset="0.4933" stop-color="#facfc0"/><stop offset="0.4967" stop-color="#f7b9a6"/><stop offset="0.5" stop-color="#f6af9a"/><stop offset="0.5033" stop-color="#f8c2b0"/><stop offset="0.5067" stop-color="#ee795f"/><stop offset="0.51" stop-color="#f8bca9"/><stop offset="0.5133" stop-color="#ed6e54"/><stop offset="0.5167" stop-color="#f08a6f"/><stop offset="0.52" stop-color="#eb6149"/><stop offset="0.5233" stop-color="#f0896d"/><stop offset="0.5267" stop-color="#f19176"/><stop offset="0.53" stop-color="#f08b6f"/><stop offset="0.5333" stop-color="#ee7c61"/><stop offset="0.5367" stop-color="#ed755a"/><stop offset="0.54" stop-color="#e94e3a"/><stop offset="0.5433" stop-color="#ea5941"/><stop offset="0.5467" stop-color="#e6312a"/><stop offset="0.55" stop-color="#e52522"/><stop offset="0.5533" stop-color="#f7b8a5"/><stop offset="0.5567" stop-color="#f4a790"/><stop offset="0.56" stop-color="#f39d84"/><stop offset="0.5633" stop-color="#ec684f"/><stop offset="0.5667" stop-color="#e94e3a"/><stop offset="0.57" stop-color="#ea5a42"/><stop offset="0.5733" stop-color="#eb6148"/><stop offset="0.5767" stop-color="#ef876b"/><stop offset="0.58" stop-color="#e9513c"/><stop offset="0.5833" stop-color="#e41f1f"/><stop offset="0.5867" stop-color="#e52321"/><stop offset="0.59" stop-color="#e41a1c"/><stop offset="0.5933" stop-color="#e41a1c"/><stop offset="0.5967" stop-color="#e41a1c"/><stop offset="0.6" stop-color="#e52120"/><stop offset="0.6033" stop-color="#e41d1e"/><stop offset="0.6067" stop-color="#e41a1c"/><stop offset="0.61" stop-color="#e7362d"/><stop offset="0.6133" stop-color="#ed6e55"/><stop offset="0.6167" stop-color="#ec694f"/><stop offset="0.62" stop-color="#f4a891"/><stop offset="0.6233" stop-color="#e62c27"/><stop offset="0.6267" stop-color="#ec6d53"/><stop offset="0.63" stop-color="#f19379"/><stop offset="0.6333" stop-color="#eb644b"/><stop offset="0.6367" stop-color="#ec6a50"/><stop offset="0.64" stop-color="#e62e27"/><stop offset="0.6433" stop-color="#ed7258"/><stop offset="0.6467" stop-color="#eb624a"/><stop offset="0.65" stop-color="#e84535"/><stop offset="0.6533" stop-color="#e84132"/><stop offset="0.6567" stop-color="#ea5940"/><stop offset="0.66" stop-color="#eb624a"/><stop offset="0.6633" stop-color="#e84334"/><stop offset="0.6667" stop-color="#ec664d"/><stop offset="0.67" stop-color="#f39e86"/><stop offset="0.6733" stop-color="#f39e85"/><stop offset="0.6767" stop-color="#ef8267"/><stop offset="0.68" stop-color="#ea5a42"/><stop offset="0.6833" stop-color="#fbd9cd"/><stop offset="0.6867" stop-color="#fef1ec"/><stop offset="0.69" stop-color="#fac8b7"/><stop offset="0.6933" stop-color="#fac9b8"/><stop offset="0.6967" stop-color="#f6b29d"/><stop offset="0.7" stop-color="#fef2ee"/><stop offset="0.7033" stop-color="#ee7b60"/><stop offset="0.7067" stop-color="#f7b6a2"/><stop offset="0.71" stop-color="#f19075"/><stop offset="0.7133" stop-color="#f3a28a"/><stop offset="0.7167" stop-color="#f8c1af"/><stop offset="0.72" stop-color="#f5ac96"/><stop offset="0.7233" stop-color="#ef876b"/><stop offset="0.7267" stop-color="#f08b6f"/><stop offset="0.73" stop-color="#f5ae98"/><stop offset="0.7333" stop-color="#f08b6f"/><stop offset="0.7367" stop-color="#f19075"/><stop offset="0.74" stop-color="#fbd2c4"/><stop offset="0.7433" stop-color="#fcdbd0"/><stop offset="0.7467" stop-color="#fcdbd0"/><stop offset="0.75" stop-color="#fdece6"/><stop offset="0.7533" stop-color="#fce1d7"/><stop offset="0.7567" stop-color="#fcded4"/><stop offset="0.76" stop-color="#e7e5f1"/><stop offset="0.7633" stop-color="#ebe9f4"/><stop offset="0.7667" stop-color="#efedf6"/><stop offset="0.77" stop-color="#f0eef6"/><stop offset="0.7733" stop-color="#f7f6fa"/><stop offset="0.7767" stop-color="#e5e2f0"/><stop offset="0.78" stop-color="#eae8f3"/><stop offset="0.7833" stop-color="#fde6df"/><stop offset="0.7867" stop-color="#fef0eb"/><stop offset="0.79" stop-color="#fde5dd"/><stop offset="0.7933" stop-color="#fef1ec"/><stop offset="0.7967" stop-color="#fffefd"/><stop offset="0.8" stop-color="#f5f3f9"/><stop offset="0.8033" stop-color="#edebf5"/><stop offset="0.8067" stop-color="#fdfcfe"/><stop offset="0.81" stop-color="#ed755a"/><stop offset="0.8133" stop-color="#f9c8b7"/><stop offset="0.8167" stop-color="#f29c83"/><stop offset="0.82" stop-color="#f2977d"/><stop offset="0.8233" stop-color="#ef8166"/><stop offset="0.8267" stop-color="#ee785e"/><stop offset="0.83" stop-color="#facebe"/><stop offset="0.8333" stop-color="#fde5dd"/><stop offset="0.8367" stop-color="#f8bdab"/><stop offset="0.84" stop-color="#f7b6a2"/><stop offset="0.8433" stop-color="#fdeee9"/><stop offset="0.8467" stop-color="#fef3f0"/><stop offset="0.85" stop-color="#ffffff"/><stop offset="0.8533" stop-color="#f7b7a4"/><stop offset="0.8567" stop-color="#fef2ee"/><stop offset="0.86" stop-color="#fef7f4"/><stop offset="0.8633" stop-color="#fbd1c3"/><stop offset="0.8667" stop-color="#fcdbd0"/><stop offset="0.87" stop-color="#fbd6c9"/><stop offset="0.8733" stop-color="#fbdacf"/><stop offset="0.8767" stop-color="#f9c5b4"/><stop offset="0.88" stop-color="#facaba"/><stop offset="0.8833" stop-color="#fde8e1"/><stop offset="0.8867" stop-color="#fbd1c2"/><stop offset="0.89" stop-color="#fef2ed"/><stop offset="0.8933" stop-color="#fefaf8"/><stop offset="0.8967" stop-color="#f8f8fb"/><stop offset="0.9" stop-color="#eae8f3"/><stop offset="0.9033" stop-color="#fcded4"/><stop offset="0.9067" stop-color="#f6b29d"/><stop offset="0.91" stop-color="#f8c1af"/><stop offset="0.9133" stop-color="#f4a68f"/><stop offset="0.9167" stop-color="#f6b39e"/><stop offset="0.92" stop-color="#f9c3b1"/><stop offset="0.9233" stop-color="#f9c2b0"/><stop offset="0.9267" stop-color="#f7bba8"/><stop offset="0.93" stop-color="#fbdbcf"/><stop offset="0.9333" stop-color="#fac8b8"/><stop offset="0.9367" stop-color="#fcdcd1"/><stop offset="0.94" stop-color="#f9c2b0"/><stop offset="0.9433" stop-color="#f4a790"/><stop offset="0.9467" stop-color="#f08b6f"/><stop offset="0.95" stop-color="#ef8065"/><stop offset="0.9533" stop-color="#f08d72"/><stop offset="0.9567" stop-color="#f6b09b"/><stop offset="0.96" stop-color="#f3a088"/><stop offset="0.9633" stop-color="#f2977d"/><stop offset="0.9667" stop-color="#f08e72"/><stop offset="0.97" stop-color="#f4a790"/><stop offset="0.9733" stop-color="#f08a6e"/><stop offset="0.9767" stop-color="#f5aa94"/><stop offset="0.98" stop-color="#f2977d"/><stop offset="0.9833" stop-color="#ec6d53"/><stop offset="0.9867" stop-color="#f0886c"/><stop offset="0.99" stop-color="#ea543e"/><stop offset="0.9933" stop-color="#ec6b52"/><stop offset="0.9967" stop-color="#ec6a51"/><stop offset="1" stop-color="#ec6d54"/></linearGradient><linearGradient id="hleg" x1="0" y1="0" x2="0" y2="1"><stop offset="0.0389" stop-color="#e41a1c"/><stop offset="0.0966" stop-color="#e7392e"/><stop offset="0.1543" stop-color="#ea5840"/><stop offset="0.2120" stop-color="#ed7258"/><stop offset="0.2698" stop-color="#f08c70"/><stop offset="0.3275" stop-color="#f5ac96"/><stop offset="0.3852" stop-color="#facbbb"/><stop offset="0.4429" stop-color="#fce5dd"/><stop offset="0.5006" stop-color="#ffffff"/><stop offset="0.5583" stop-color="#eae7f2"/><stop offset="0.6161" stop-color="#d4cfe6"/><stop offset="0.6738" stop-color="#b9b2d7"/><stop offset="0.7315" stop-color="#9e96c8"/><stop offset="0.7892" stop-color="#7d7dbc"/><stop offset="0.8469" stop-color="#5c64b0"/><stop offset="0.9046" stop-color="#465cab"/><stop offset="0.9624" stop-color="#3155a6"/></linearGradient><linearGradient id="pleg" x1="0" y1="0" x2="0" y2="1"><stop offset="0" stop-color="#5b4da3"/><stop offset="0.17" stop-color="#5b78b8"/><stop offset="0.335" stop-color="#5c94c0"/><stop offset="0.5" stop-color="#6cc4cf"/><stop offset="0.585" stop-color="#7cc6a0"/><stop offset="0.67" stop-color="#85c56a"/><stop offset="0.75" stop-color="#8dc040"/><stop offset="0.835" stop-color="#c0a030"/><stop offset="0.92" stop-color="#e06a25"/><stop offset="1" stop-color="#e8251f"/></linearGradient></defs>
<text x="0.4" y="12.6" font-family="'Liberation Sans',Arial,sans-serif" font-weight="700" font-size="16.3" fill="#000">A</text>
<text x="374.7" y="12.6" font-family="'Liberation Sans',Arial,sans-serif" font-weight="700" font-size="16.3" fill="#000">B</text>
<text x="61.1" y="378" font-family="'Liberation Sans',Arial,sans-serif" font-weight="700" font-size="16.3" fill="#000">C</text>
<text x="61" y="731.8" font-family="'Liberation Sans',Arial,sans-serif" font-weight="700" font-size="16.3" fill="#000">D</text>
<rect x="55.2" y="14.4" width="123.85" height="9.4" fill="#3155a6"/>
<rect x="179.05" y="14.4" width="123.85" height="9.4" fill="#e41a1c"/>
<rect x="55.2" y="28.0" width="41.58" height="324.9" fill="url(#hc0)"/>
<rect x="96.48" y="28.0" width="41.58" height="324.9" fill="url(#hc1)"/>
<rect x="137.77" y="28.0" width="41.58" height="324.9" fill="url(#hc2)"/>
<rect x="179.05" y="28.0" width="41.58" height="324.9" fill="url(#hc3)"/>
<rect x="220.33" y="28.0" width="41.58" height="324.9" fill="url(#hc4)"/>
<rect x="261.62" y="28.0" width="41.28" height="324.9" fill="url(#hc5)"/>
<path d="M50.4 29.27H49.36V29.87H50.4M50.4 30.51H48.5V31.28H50.4M50.4 32.03H49.9V32.69H50.4M49.9 32.36H48.89V33.34H50.4M50.4 35.04H49.9V35.89H50.4M50.4 34.1H49.9V35.46H49.9M49.9 34.78H48.55V36.53H50.4M48.89 32.85H47.58V35.66H48.55M48.5 30.9H46.1V34.25H47.58M49.36 29.57H45.07V32.57H46.1M50.4 28.5H44.45V31.07H45.07M50.4 37.13H49.35V37.73H50.4M44.45 29.79H43.48V37.43H49.35M50.4 39.12H49.48V39.96H50.4M50.4 38.27H47.7V39.54H49.48M50.4 40.71H49.06V41.67H50.4M50.4 42.64H49.77V43.39H50.4M49.06 41.19H47.95V43.02H49.77M50.4 44.07H49.9V44.92H50.4M49.9 44.5H49.11V45.78H50.4M49.11 45.14H48.22V46.56H50.4M47.95 42.1H46.35V45.85H48.22M46.35 43.97H45.48V47.33H50.4M50.4 49.16H49.9V49.75H50.4M49.9 49.46H49.9V50.33H50.4M49.9 49.9H49.9V50.88H50.4M50.4 48.61H49.88V50.39H49.9M49.88 49.5H48.58V51.58H50.4M50.4 48.04H46.51V50.54H48.58M45.48 45.65H44.01V49.29H46.51M47.7 38.91H42.48V47.47H44.01M43.48 33.61H39.8V43.19H42.48M50.4 53.19H49.9V53.94H50.4M49.9 53.57H49.9V54.49H50.4M50.4 55.13H49.9V55.76H50.4M49.9 54.03H49.42V55.45H49.9M50.4 56.31H49.66V56.95H50.4M49.42 54.74H48.04V56.63H49.66M50.4 52.36H46.27V55.68H48.04M50.4 57.86H49.6V58.93H50.4M49.6 58.4H47.54V59.77H50.4M46.27 54.02H45.3V59.08H47.54M50.4 60.37H49.9V60.95H50.4M49.9 60.66H49.9V61.52H50.4M49.9 61.09H48.95V62.29H50.4M48.95 61.69H47.08V63.05H50.4M45.3 56.55H44.27V62.37H47.08M50.4 63.6H49.3V64.27H50.4M44.27 59.46H43.1V63.93H49.3M50.4 64.94H49.49V65.7H50.4M49.49 65.32H48.62V66.47H50.4M50.4 67.1H49.12V67.72H50.4M48.62 65.89H47.15V67.41H49.12M43.1 61.7H42.01V66.65H47.15M50.4 69.23H49.37V70.07H50.4M50.4 68.33H48.04V69.65H49.37M50.4 71.17H49.9V71.9H50.4M50.4 70.62H48.59V71.53H49.9M48.59 71.08H47.14V72.84H50.4M48.04 68.99H45.71V71.96H47.14M50.4 73.7H49.07V74.34H50.4M50.4 76.36H49.9V76.95H50.4M50.4 75.78H49.9V76.65H49.9M49.9 76.22H49.9V77.73H50.4M50.4 75.04H49.9V76.97H49.9M50.4 79H49.9V79.64H50.4M50.4 78.45H49.9V79.32H49.9M49.9 76.01H49.68V78.89H49.9M49.68 77.45H47.62V80.35H50.4M49.07 74.02H45.92V78.9H47.62M45.71 70.48H42V76.46H45.92M50.4 81.57H49.59V82.16H50.4M50.4 80.98H48.33V81.86H49.59M50.4 83.74H49.87V84.39H50.4M50.4 82.95H49.17V84.07H49.87M48.33 81.42H47.36V83.51H49.17M50.4 85.08H49.18V85.7H50.4M47.36 82.46H45.76V85.39H49.18M42 73.47H41.18V83.93H45.76M42.01 64.17H40.5V78.7H41.18M39.8 38.4H36.3V71.44H40.5M50.4 86.97H49.1V87.73H50.4M50.4 88.5H49.9V89.35H50.4M49.9 88.92H49.9V90.44H50.4M49.1 87.35H48.18V89.68H49.9M50.4 86.35H46.95V88.52H48.18M46.95 87.43H46.13V91.29H50.4M50.4 92.16H49.9V93.15H50.4M49.9 92.65H49.28V93.89H50.4M49.28 93.27H47.97V94.47H50.4M50.4 95.34H49.9V96.44H50.4M49.9 95.89H48.6V97.25H50.4M48.6 96.57H47.69V97.8H50.4M50.4 99.02H49.28V99.69H50.4M50.4 98.35H48.59V99.35H49.28M50.4 100.24H49.9V101.02H50.4M49.9 100.63H48.98V101.81H50.4M50.4 104.22H49.9V104.95H50.4M50.4 103.38H49.9V104.59H49.9M50.4 102.55H49.39V103.99H49.9M48.98 101.22H48.28V103.27H49.39M48.28 102.24H47.51V105.61H50.4M48.59 98.85H46.02V103.93H47.51M47.69 97.19H45.25V101.39H46.02M47.97 93.87H44.61V99.29H45.25M46.13 89.36H42.88V96.58H44.61M50.4 106.82H49.09V107.58H50.4M50.4 106.28H48.05V107.2H49.09M50.4 109.05H49.9V109.77H50.4M50.4 108.33H49.06V109.41H49.9M49.06 108.87H48.09V110.36H50.4M48.05 106.74H45.9V109.61H48.09M50.4 111.5H49.81V112.14H50.4M50.4 110.95H48.58V111.82H49.81M50.4 114.07H49.9V114.66H50.4M50.4 113.48H49.9V114.36H49.9M49.9 113.92H49.84V115.32H50.4M50.4 112.85H49.13V114.62H49.84M50.4 117.13H49.9V117.72H50.4M50.4 116.54H49.47V117.43H49.9M50.4 115.99H48.66V116.98H49.47M49.13 113.74H47.89V116.49H48.66M48.58 111.39H46.16V115.11H47.89M45.9 108.18H43.27V113.25H46.16M50.4 118.93H49.9V119.54H50.4M49.9 119.24H49.04V120.16H50.4M50.4 118.33H47.99V119.7H49.04M50.4 120.87H49.08V121.58H50.4M47.99 119.01H46.5V121.22H49.08M50.4 122.13H49.9V122.76H50.4M49.9 122.44H49.9V123.4H50.4M49.9 122.92H49.9V123.95H50.4M49.9 123.43H49.9V124.8H50.4M49.9 124.11H47.96V125.92H50.4M50.4 126.75H49.36V127.57H50.4M49.36 127.16H47.9V128.49H50.4M47.96 125.02H46.39V127.83H47.9M46.39 126.42H45.71V129.43H50.4M46.5 120.12H43.92V127.92H45.71M43.27 110.71H40.2V124.02H43.92M42.88 92.97H37V117.37H40.2M36.3 54.92H33.5V105.17H37M50.4 130.48H48.94V131.24H50.4M50.4 132.51H49.9V133.23H50.4M50.4 131.79H49.9V132.87H49.9M49.9 132.33H49.39V133.78H50.4M49.39 133.06H48.09V134.33H50.4M50.4 135.03H49.86V135.73H50.4M49.86 135.38H48.8V136.31H50.4M48.09 133.69H46.88V135.84H48.8M48.94 130.86H45.65V134.77H46.88M50.4 137.8H49.9V138.43H50.4M49.9 138.11H49.73V139.14H50.4M50.4 137.03H48.75V138.62H49.73M50.4 139.85H48.85V140.56H50.4M48.75 137.83H47.11V140.2H48.85M45.65 132.81H43.32V139.01H47.11M50.4 141.51H49.9V142.29H50.4M49.9 141.9H48.65V142.84H50.4M50.4 143.55H49.09V144.25H50.4M49.09 143.9H48.15V144.8H50.4M50.4 146.48H49.2V147.09H50.4M50.4 148.88H49.9V149.51H50.4M49.9 149.19H49.9V150.17H50.4M49.9 149.68H49.9V150.78H50.4M50.4 148.33H49.9V150.23H49.9M50.4 147.71H49.9V149.28H49.9M49.9 148.49H49.54V151.55H50.4M49.2 146.79H47.69V150.02H49.54M50.4 145.62H46.29V148.4H47.69M48.15 144.35H44.82V147.01H46.29M48.65 142.37H43.41V145.68H44.82M43.32 135.91H37.5V144.03H43.41M50.4 153.55H49.9V154.26H50.4M50.4 152.83H49.9V153.9H49.9M50.4 152.28H48.05V153.37H49.9M50.4 154.95H49.14V155.64H50.4M50.4 156.96H49.9V157.55H50.4M49.9 157.26H49.9V158.36H50.4M49.9 157.81H49.9V159.45H50.4M50.4 156.28H48.15V158.63H49.9M49.14 155.29H47.43V157.46H48.15M48.05 152.82H45.45V156.37H47.43M50.4 161.11H49.9V161.74H50.4M50.4 162.29H49.9V162.96H50.4M49.9 161.42H49.9V162.62H49.9M50.4 160.38H49.11V162.02H49.9M49.11 161.2H47.76V163.63H50.4M50.4 164.18H49.9V164.9H50.4M50.4 165.63H49.9V166.25H50.4M49.9 165.94H49.9V166.87H50.4M49.9 164.54H48.89V166.4H49.9M48.89 165.47H47.02V167.57H50.4M47.76 162.42H45.71V166.52H47.02M45.45 154.6H36.5V164.47H45.71M50.4 168.92H49.9V169.74H50.4M50.4 168.28H48.58V169.33H49.9M50.4 170.58H48.7V171.33H50.4M50.4 172.52H49.9V173.15H50.4M49.9 172.84H49.9V174.06H50.4M50.4 171.97H48.64V173.45H49.9M48.7 170.95H47.01V172.71H48.64M48.58 168.8H45.55V171.83H47.01M50.4 175.14H48.52V175.94H50.4M50.4 177.04H49.9V177.64H50.4M50.4 176.49H49.9V177.34H49.9M49.9 176.92H49.32V178.23H50.4M48.52 175.54H47.42V177.57H49.32M45.55 170.32H44.16V176.56H47.42M50.4 178.98H49.09V179.72H50.4M44.16 173.44H42.25V179.35H49.09M36.5 159.53H32.2V176.39H42.25M37.5 139.97H30.4V167.96H32.2M33.5 80.04H28.8V153.97H30.4M50.4 180.28H49.42V181.03H50.4M50.4 183.11H49.9V183.88H50.4M50.4 182.56H49.9V183.5H49.9M50.4 181.9H48.91V183.03H49.9M49.42 180.65H47.38V182.46H48.91M50.4 185.4H49.9V186.02H50.4M49.9 185.71H49.11V186.61H50.4M50.4 184.72H47.46V186.16H49.11M47.38 181.56H45.72V185.44H47.46M50.4 187.21H49.9V188.05H50.4M50.4 189.45H49.9V190.22H50.4M50.4 188.89H49.9V189.83H49.9M49.9 187.63H49.04V189.36H49.9M49.04 188.49H47.81V191.21H50.4M50.4 192.69H49.9V193.33H50.4M50.4 192.02H49.9V193.01H49.9M49.9 192.52H48.62V193.96H50.4M47.81 189.85H46.77V193.24H48.62M50.4 194.88H48.46V195.72H50.4M46.77 191.55H45.01V195.3H48.46M45.72 183.5H43.11V193.42H45.01M50.4 196.32H49.9V196.92H50.4M49.9 196.62H49.9V197.47H50.4M49.9 197.05H48.34V198.02H50.4M50.4 198.57H48.93V199.25H50.4M48.93 198.91H47.77V200.05H50.4M50.4 201.31H49.32V202.02H50.4M50.4 200.74H48.42V201.67H49.32M50.4 202.78H49.9V203.37H50.4M49.9 203.07H48.61V203.98H50.4M50.4 206.62H49.9V207.22H50.4M50.4 205.88H49.9V206.92H49.9M50.4 205.14H49.9V206.4H49.9M50.4 204.59H49.14V205.77H49.9M49.14 205.18H48.16V208H50.4M48.61 203.53H47.52V206.59H48.16M48.42 201.2H46.42V205.06H47.52M47.77 199.48H45.2V203.13H46.42M48.34 197.53H43.31V201.31H45.2M50.4 209.45H49.9V210.28H50.4M49.9 209.86H49.9V211.1H50.4M49.9 210.48H49.44V211.65H50.4M50.4 208.82H47.35V211.07H49.44M50.4 213.37H49.9V213.98H50.4M50.4 212.75H49.9V213.68H49.9M50.4 212.2H48.56V213.21H49.9M48.56 212.71H47.79V214.63H50.4M47.35 209.94H46.01V213.67H47.79M43.31 199.42H42.42V211.81H46.01M50.4 215.28H49.26V215.88H50.4M50.4 216.54H49.9V217.15H50.4M50.4 218.8H49.9V219.71H50.4M50.4 217.89H49.9V219.26H49.9M49.9 216.85H48.79V218.57H49.9M49.26 215.58H46.81V217.71H48.79M50.4 221.29H49.03V222.03H50.4M50.4 220.52H47.87V221.66H49.03M50.4 222.67H49.43V223.26H50.4M50.4 224.63H49.9V225.64H50.4M49.9 225.13H49.64V226.44H50.4M50.4 223.84H47.95V225.79H49.64M49.43 222.96H46.43V224.81H47.95M50.4 226.99H48.53V227.82H50.4M50.4 229.71H49.9V230.48H50.4M50.4 228.8H49.9V230.09H49.9M50.4 231.03H49.9V231.71H50.4M49.9 229.45H49.9V231.37H49.9M50.4 232.47H49.9V233.17H50.4M49.9 230.41H48.84V232.82H49.9M50.4 234.85H49.9V235.72H50.4M50.4 234H49.9V235.28H49.9M50.4 236.48H49.9V237.11H50.4M49.9 234.64H49.9V236.79H49.9M49.9 235.72H49.54V238.04H50.4M48.84 231.61H47.55V236.88H49.54M48.53 227.41H45.85V234.25H47.55M50.4 239.03H48.86V239.72H50.4M45.85 230.83H44.9V239.38H48.86M46.43 223.89H43.76V235.1H44.9M47.87 221.09H42.31V229.49H43.76M46.81 216.64H39V225.29H42.31M50.4 240.96H49.9V241.64H50.4M50.4 240.28H49.9V241.3H49.9M49.9 240.79H49.9V242.19H50.4M49.9 241.49H48.2V243.02H50.4M48.2 242.26H46.34V243.91H50.4M50.4 245.08H49.9V245.72H50.4M50.4 244.52H49.9V245.4H49.9M49.9 244.96H49.36V246.36H50.4M49.36 245.66H48.06V247.01H50.4M50.4 247.66H49.19V248.41H50.4M50.4 251.3H49.9V251.94H50.4M50.4 250.4H49.9V251.62H49.9M50.4 249.37H48.62V251.01H49.9M49.19 248.04H47.61V250.19H48.62M50.4 253.59H49.41V254.57H50.4M50.4 252.62H48.68V254.08H49.41M50.4 255.26H49.9V255.89H50.4M49.9 255.58H49.9V256.55H50.4M49.9 256.06H49.9V257.12H50.4M49.9 256.59H49.81V257.83H50.4M48.68 253.35H47.93V257.21H49.81M47.61 249.11H46.65V255.28H47.93M50.4 260.99H49.9V261.63H50.4M50.4 260.18H49.28V261.31H49.9M50.4 259.37H48.18V260.75H49.28M50.4 258.68H46.49V260.06H48.18M46.65 252.2H44.74V259.37H46.49M48.06 246.34H43.11V255.78H44.74M46.34 243.08H42.41V251.06H43.11M50.4 262.57H48.88V263.41H50.4M50.4 264.14H49.63V264.87H50.4M49.63 264.51H48.53V265.47H50.4M50.4 266.7H49.9V267.6H50.4M50.4 266.06H48.93V267.15H49.9M50.4 268.56H49.9V269.29H50.4M49.9 268.92H48.43V269.87H50.4M48.93 266.61H47.06V269.4H48.43M48.53 264.99H45.42V268H47.06M48.88 262.99H44.28V266.49H45.42M50.4 271.61H49.9V272.29H50.4M49.9 271.95H49.9V272.87H50.4M50.4 270.97H49.9V272.41H49.9M50.4 270.42H48.7V271.69H49.9M48.7 271.05H46.89V273.5H50.4M50.4 274.18H49.9V274.79H50.4M49.9 274.49H49.9V275.34H50.4M50.4 276.17H49.9V277H50.4M49.9 276.58H49.9V277.83H50.4M49.9 277.21H49.9V278.74H50.4M49.9 274.91H49.52V277.97H49.9M49.52 276.44H48.1V279.45H50.4M50.4 281.41H49.9V282.19H50.4M50.4 280.63H48.98V281.8H49.9M50.4 280.08H48.24V281.22H48.98M48.1 277.95H46.99V280.65H48.24M46.99 279.3H45.86V283.02H50.4M50.4 284.92H49.79V285.58H50.4M49.79 285.25H48.58V286.24H50.4M50.4 284.11H47.22V285.75H48.58M45.86 281.16H44.47V284.93H47.22M46.89 272.28H43.37V283.05H44.47M50.4 286.84H49.4V287.44H50.4M50.4 288.08H49.9V288.72H50.4M49.9 288.4H48.72V289.5H50.4M49.4 287.14H46.81V288.95H48.72M43.37 277.66H41.74V288.05H46.81M44.28 264.74H39.7V282.85H41.74M50.4 290.9H49.9V291.61H50.4M49.9 291.25H49.9V292.32H50.4M50.4 290.31H48.85V291.79H49.9M48.85 291.05H47.05V292.87H50.4M50.4 294.6H49.9V295.31H50.4M50.4 294.01H49.9V294.96H49.9M50.4 293.42H49.9V294.49H49.9M49.9 293.95H49.82V296.24H50.4M50.4 297.07H49.9V297.69H50.4M49.9 297.38H49.68V298.27H50.4M49.82 295.1H48.01V297.82H49.68M50.4 298.84H49.42V299.42H50.4M48.01 296.46H46.86V299.13H49.42M47.05 291.96H45.06V297.79H46.86M50.4 302.35H49.9V302.99H50.4M50.4 301.79H49.9V302.67H49.9M50.4 301.14H49.11V302.23H49.9M49.11 301.69H47.81V303.67H50.4M50.4 300.25H46.86V302.68H47.81M45.06 294.88H44.28V301.47H46.86M50.4 305.19H49.47V305.84H50.4M49.47 305.52H48.34V306.44H50.4M50.4 304.43H47.71V305.98H48.34M50.4 308.54H49.9V309.17H50.4M49.9 308.86H49.56V309.73H50.4M50.4 307.9H48.54V309.29H49.56M50.4 307.17H47.73V308.59H48.54M47.71 305.2H46.35V307.88H47.73M44.28 298.17H42.34V306.54H46.35M50.4 310.83H49.9V311.53H50.4M49.9 311.18H49.9V312.23H50.4M50.4 310.27H49.43V311.7H49.9M50.4 312.9H49.9V313.57H50.4M49.9 313.23H49.34V314.2H50.4M49.43 310.99H47.39V313.72H49.34M50.4 314.96H49.45V315.64H50.4M50.4 316.33H49.67V317.01H50.4M49.45 315.3H48.45V316.67H49.67M50.4 318.25H49.9V318.94H50.4M50.4 317.56H49.9V318.59H49.9M50.4 320.04H49.9V320.72H50.4M50.4 319.49H49.9V320.38H49.9M49.9 318.08H49.9V319.93H49.9M50.4 321.4H49.79V322.15H50.4M49.9 319H48.43V321.78H49.79M48.45 315.98H46.54V320.39H48.43M50.4 322.95H49.9V323.53H50.4M49.9 323.24H48.75V324.1H50.4M50.4 324.67H49.9V325.32H50.4M50.4 326.04H49.9V326.66H50.4M49.9 326.35H49.9V327.21H50.4M49.9 326.78H49.9V328H50.4M49.9 324.99H49.9V327.39H49.9M49.9 326.19H49.9V328.95H50.4M50.4 329.84H49.9V330.64H50.4M49.9 327.57H48.3V330.24H49.9M48.75 323.67H46.68V328.91H48.3M46.54 318.19H45.17V326.29H46.68M47.39 312.35H43.11V322.24H45.17M50.4 331.46H48.82V332.19H50.4M50.4 334.45H49.9V335.03H50.4M50.4 333.83H49.9V334.74H49.9M50.4 333H49.9V334.29H49.9M49.9 333.64H49.9V335.84H50.4M49.9 334.74H49.9V336.75H50.4M49.9 335.74H49.4V337.7H50.4M49.4 336.72H47.94V338.66H50.4M48.82 331.83H46.08V337.69H47.94M50.4 339.61H49.9V340.45H50.4M49.9 340.03H48.28V341H50.4M46.08 334.76H44.98V340.52H48.28M50.4 342.21H49.34V343.01H50.4M50.4 341.55H48.68V342.61H49.34M48.68 342.08H47.94V343.87H50.4M47.94 342.98H47.03V344.86H50.4M44.98 337.64H43.68V343.92H47.03M50.4 346.44H49.9V347.1H50.4M50.4 345.73H49.48V346.77H49.9M49.48 346.25H48.17V347.79H50.4M50.4 348.62H49.9V349.36H50.4M49.9 348.99H48.74V350.12H50.4M48.17 347.02H46.87V349.55H48.74M50.4 351.49H49.9V352.07H50.4M50.4 350.89H49.22V351.78H49.9M49.22 351.34H48.44V352.62H50.4M46.87 348.29H44.51V351.98H48.44M43.68 340.78H42.28V350.13H44.51M43.11 317.29H41.2V345.46H42.28M42.34 302.36H39V331.37H41.2M39.7 273.8H34.7V316.87H39M42.41 247.07H31V295.33H34.7M39 220.97H30.4V271.2H31M42.42 205.61H30V246.08H30.4M43.11 188.46H29.4V225.85H30M28.8 117.01H25.3V207.16H29.4" fill="none" stroke="#000" stroke-width="1.0"/>
<rect x="49.8" y="28.0" width="3.6" height="324.9" fill="#000"/>
<text x="343.6" y="127.6" font-family="'Liberation Serif','Times New Roman',serif" font-size="8.6" fill="#222">group</text>
<rect x="344.6" y="136.8" width="12.2" height="11.9" fill="#3155a6"/>
<rect x="344.6" y="150" width="12.2" height="11.6" fill="#e41a1c"/>
<text x="361" y="145.3" font-family="'Liberation Serif','Times New Roman',serif" font-size="7.6" fill="#222">sh</text>
<text x="361" y="158" font-family="'Liberation Serif','Times New Roman',serif" font-size="6.9" fill="#222">NC</text>
<rect x="343.6" y="177.7" width="13.1" height="79.7" fill="url(#hleg)"/>
<path d="M343.6 180.8h4M352.7 180.8h4" stroke="#fff" stroke-width="0.8"/>
<text x="360" y="183.2" font-family="'Liberation Serif','Times New Roman',serif" font-size="7.4" fill="#222">2</text>
<path d="M343.6 199.2h4M352.7 199.2h4" stroke="#fff" stroke-width="0.8"/>
<text x="360" y="201.6" font-family="'Liberation Serif','Times New Roman',serif" font-size="7.4" fill="#222">1</text>
<text x="360" y="220" font-family="'Liberation Serif','Times New Roman',serif" font-size="7.4" fill="#222">0</text>
<path d="M343.6 236h4M352.7 236h4" stroke="#fff" stroke-width="0.8"/>
<text x="360" y="238.4" font-family="'Liberation Serif','Times New Roman',serif" font-size="7.4" fill="#222">−1</text>
<path d="M343.6 254.4h4M352.7 254.4h4" stroke="#fff" stroke-width="0.8"/>
<text x="360" y="256.8" font-family="'Liberation Serif','Times New Roman',serif" font-size="7.4" fill="#222">−2</text>
<g fill="#375aaa" fill-opacity="0.72"><circle cx="547.74" cy="289.32" r="2.85"/><circle cx="546.28" cy="293.47" r="2.85"/><circle cx="535.54" cy="292.77" r="2.85"/><circle cx="536.58" cy="293.62" r="2.85"/><circle cx="544.64" cy="291.97" r="2.85"/><circle cx="539.98" cy="293.79" r="2.85"/><circle cx="547.74" cy="290.63" r="2.85"/><circle cx="550.84" cy="287.24" r="2.85"/><circle cx="539.74" cy="292.96" r="2.85"/><circle cx="542.25" cy="291.77" r="2.85"/><circle cx="549.36" cy="291.13" r="2.85"/><circle cx="547.88" cy="291.06" r="2.85"/><circle cx="550.71" cy="291.93" r="2.85"/><circle cx="549.89" cy="274.96" r="2.85"/><circle cx="540.04" cy="290.13" r="2.85"/><circle cx="543.12" cy="287.01" r="2.85"/><circle cx="544.71" cy="292.21" r="2.85"/><circle cx="525.35" cy="291.7" r="2.85"/><circle cx="525.08" cy="293.3" r="2.85"/><circle cx="538.37" cy="293.11" r="2.85"/><circle cx="529.13" cy="293.59" r="2.85"/><circle cx="527.44" cy="293.74" r="2.85"/><circle cx="550.6" cy="283.68" r="2.85"/><circle cx="548.41" cy="289.86" r="2.85"/><circle cx="542.48" cy="293.84" r="2.85"/><circle cx="539.41" cy="293.38" r="2.85"/><circle cx="546.49" cy="292.2" r="2.85"/><circle cx="539.51" cy="291.54" r="2.85"/><circle cx="548.5" cy="293.32" r="2.85"/><circle cx="548.35" cy="291.02" r="2.85"/><circle cx="550.78" cy="292.57" r="2.85"/><circle cx="538.78" cy="291.97" r="2.85"/><circle cx="518.37" cy="290.36" r="2.85"/><circle cx="533.03" cy="293.4" r="2.85"/><circle cx="549.94" cy="291.26" r="2.85"/><circle cx="545.99" cy="291.08" r="2.85"/><circle cx="544.59" cy="292.54" r="2.85"/><circle cx="534.56" cy="293.53" r="2.85"/><circle cx="545.99" cy="285.59" r="2.85"/><circle cx="536.94" cy="293.44" r="2.85"/><circle cx="549.04" cy="283.82" r="2.85"/><circle cx="551.4" cy="292.64" r="2.85"/><circle cx="544.8" cy="291.46" r="2.85"/><circle cx="549.89" cy="293.57" r="2.85"/><circle cx="549.48" cy="284.21" r="2.85"/><circle cx="545.95" cy="279.18" r="2.85"/><circle cx="537.88" cy="288.05" r="2.85"/><circle cx="551.18" cy="292.13" r="2.85"/><circle cx="551.37" cy="288.76" r="2.85"/><circle cx="547.84" cy="293.67" r="2.85"/><circle cx="544.51" cy="293.63" r="2.85"/><circle cx="548.19" cy="292.41" r="2.85"/><circle cx="537.17" cy="293.16" r="2.85"/><circle cx="548.83" cy="293.67" r="2.85"/><circle cx="546.53" cy="289.84" r="2.85"/><circle cx="541.55" cy="288.7" r="2.85"/><circle cx="536.88" cy="293.54" r="2.85"/><circle cx="550.2" cy="283.32" r="2.85"/><circle cx="537.72" cy="292.87" r="2.85"/><circle cx="535.78" cy="292.88" r="2.85"/><circle cx="548.59" cy="292.88" r="2.85"/><circle cx="551.34" cy="284.58" r="2.85"/><circle cx="531.4" cy="291.38" r="2.85"/><circle cx="545.92" cy="289.79" r="2.85"/><circle cx="528.16" cy="292.26" r="2.85"/><circle cx="543.33" cy="292.52" r="2.85"/><circle cx="545.03" cy="293.31" r="2.85"/><circle cx="549.71" cy="286.02" r="2.85"/><circle cx="544.49" cy="292.31" r="2.85"/><circle cx="547.66" cy="290.94" r="2.85"/><circle cx="537.13" cy="293.07" r="2.85"/><circle cx="523.2" cy="293.78" r="2.85"/><circle cx="548.15" cy="290" r="2.85"/><circle cx="546.8" cy="285.71" r="2.85"/><circle cx="535.95" cy="290.38" r="2.85"/><circle cx="543.11" cy="293.86" r="2.85"/><circle cx="543.94" cy="291.64" r="2.85"/><circle cx="545.58" cy="292.75" r="2.85"/><circle cx="540.57" cy="289.24" r="2.85"/><circle cx="550.54" cy="285.2" r="2.85"/><circle cx="547.39" cy="290.52" r="2.85"/><circle cx="531.51" cy="290.44" r="2.85"/><circle cx="542.37" cy="293.43" r="2.85"/><circle cx="529.09" cy="293.73" r="2.85"/><circle cx="547.22" cy="285.82" r="2.85"/><circle cx="548.13" cy="292.26" r="2.85"/><circle cx="525.02" cy="291.19" r="2.85"/><circle cx="548.12" cy="291.29" r="2.85"/><circle cx="548.56" cy="293.13" r="2.85"/><circle cx="548.95" cy="270.15" r="2.85"/><circle cx="550.76" cy="291.79" r="2.85"/><circle cx="549.52" cy="293.39" r="2.85"/><circle cx="544.89" cy="289.49" r="2.85"/><circle cx="535.39" cy="292.66" r="2.85"/><circle cx="536.44" cy="293.93" r="2.85"/><circle cx="548.56" cy="275.43" r="2.85"/><circle cx="550.86" cy="291.33" r="2.85"/><circle cx="545.66" cy="292.8" r="2.85"/><circle cx="544.51" cy="293.79" r="2.85"/><circle cx="549.11" cy="274.23" r="2.85"/><circle cx="550.12" cy="276.55" r="2.85"/><circle cx="549.76" cy="259.67" r="2.85"/><circle cx="541.57" cy="291.7" r="2.85"/><circle cx="550.14" cy="293.52" r="2.85"/><circle cx="538.9" cy="293.62" r="2.85"/><circle cx="549.63" cy="282.18" r="2.85"/><circle cx="533.12" cy="293.88" r="2.85"/><circle cx="522.87" cy="293.22" r="2.85"/><circle cx="547.23" cy="293.42" r="2.85"/><circle cx="547.12" cy="274.03" r="2.85"/><circle cx="548.58" cy="293.13" r="2.85"/><circle cx="550.1" cy="292.94" r="2.85"/><circle cx="547.65" cy="281.79" r="2.85"/><circle cx="550.78" cy="292.18" r="2.85"/><circle cx="526.72" cy="288.3" r="2.85"/><circle cx="516.94" cy="293.68" r="2.85"/><circle cx="547.62" cy="279.15" r="2.85"/><circle cx="545.62" cy="289.53" r="2.85"/><circle cx="548.17" cy="293.82" r="2.85"/><circle cx="547.75" cy="287.04" r="2.85"/><circle cx="538.03" cy="292.65" r="2.85"/><circle cx="545.98" cy="290.99" r="2.85"/><circle cx="546.33" cy="290.86" r="2.85"/><circle cx="535.67" cy="293.65" r="2.85"/><circle cx="543.52" cy="286.59" r="2.85"/><circle cx="534.82" cy="293.69" r="2.85"/><circle cx="522.24" cy="292.23" r="2.85"/><circle cx="549.87" cy="291.75" r="2.85"/><circle cx="549.49" cy="293.58" r="2.85"/><circle cx="517.6" cy="293.46" r="2.85"/><circle cx="533.27" cy="293.8" r="2.85"/><circle cx="551.37" cy="275.33" r="2.85"/><circle cx="537.53" cy="286.88" r="2.85"/><circle cx="541.27" cy="292.39" r="2.85"/><circle cx="538.65" cy="293.78" r="2.85"/><circle cx="544.62" cy="292.1" r="2.85"/><circle cx="550.09" cy="287.2" r="2.85"/><circle cx="548.04" cy="290.24" r="2.85"/><circle cx="547.36" cy="292.14" r="2.85"/><circle cx="547.57" cy="289.47" r="2.85"/><circle cx="516.69" cy="291.42" r="2.85"/><circle cx="533.97" cy="291.78" r="2.85"/><circle cx="548.5" cy="272.71" r="2.85"/><circle cx="548.71" cy="293.17" r="2.85"/><circle cx="545.35" cy="289.34" r="2.85"/><circle cx="547.81" cy="288.7" r="2.85"/><circle cx="548.56" cy="274.52" r="2.85"/><circle cx="546.16" cy="291.39" r="2.85"/><circle cx="544.79" cy="287.23" r="2.85"/><circle cx="544.85" cy="292.04" r="2.85"/><circle cx="542.99" cy="293.76" r="2.85"/><circle cx="546.59" cy="286.06" r="2.85"/><circle cx="538.21" cy="293.84" r="2.85"/><circle cx="534.45" cy="293.35" r="2.85"/><circle cx="516.33" cy="293.52" r="2.85"/><circle cx="549.36" cy="288.77" r="2.85"/><circle cx="532.46" cy="293.31" r="2.85"/><circle cx="533.63" cy="292.48" r="2.85"/><circle cx="547.53" cy="292.21" r="2.85"/><circle cx="545.27" cy="292.18" r="2.85"/><circle cx="547.37" cy="288.96" r="2.85"/><circle cx="533.1" cy="292.93" r="2.85"/><circle cx="550.09" cy="292.11" r="2.85"/><circle cx="547.39" cy="289.42" r="2.85"/><circle cx="550.16" cy="293.31" r="2.85"/><circle cx="548.07" cy="292.18" r="2.85"/><circle cx="551.23" cy="287.04" r="2.85"/><circle cx="529.02" cy="293.16" r="2.85"/><circle cx="539.67" cy="290.82" r="2.85"/><circle cx="535.42" cy="290.79" r="2.85"/><circle cx="546.34" cy="289.31" r="2.85"/><circle cx="550.35" cy="277.67" r="2.85"/><circle cx="547.29" cy="290.93" r="2.85"/><circle cx="531.96" cy="293.57" r="2.85"/><circle cx="549.63" cy="282.15" r="2.85"/><circle cx="543.42" cy="293.7" r="2.85"/><circle cx="551.24" cy="290.07" r="2.85"/><circle cx="551.43" cy="277.47" r="2.85"/><circle cx="549.7" cy="291.74" r="2.85"/><circle cx="547.14" cy="290.67" r="2.85"/><circle cx="546.49" cy="289.86" r="2.85"/><circle cx="541.96" cy="292.65" r="2.85"/><circle cx="550.59" cy="263.04" r="2.85"/><circle cx="541.1" cy="293.76" r="2.85"/><circle cx="546.34" cy="288.29" r="2.85"/><circle cx="550.89" cy="293.86" r="2.85"/><circle cx="545.71" cy="291.92" r="2.85"/><circle cx="531.62" cy="292.03" r="2.85"/><circle cx="547.93" cy="291.14" r="2.85"/><circle cx="543.76" cy="287.88" r="2.85"/><circle cx="549.5" cy="290.63" r="2.85"/><circle cx="550.67" cy="285.63" r="2.85"/><circle cx="551.25" cy="269.46" r="2.85"/><circle cx="544.93" cy="291.13" r="2.85"/><circle cx="550.7" cy="291.79" r="2.85"/><circle cx="545.9" cy="286.58" r="2.85"/><circle cx="544.65" cy="292.88" r="2.85"/><circle cx="515.94" cy="292.95" r="2.85"/><circle cx="544.85" cy="293.2" r="2.85"/><circle cx="548.36" cy="281.25" r="2.85"/><circle cx="550.23" cy="288.24" r="2.85"/><circle cx="542.94" cy="292.83" r="2.85"/><circle cx="538.55" cy="290.08" r="2.85"/><circle cx="534.27" cy="292.32" r="2.85"/><circle cx="549.48" cy="293.53" r="2.85"/><circle cx="546.48" cy="292.4" r="2.85"/><circle cx="549.59" cy="280.11" r="2.85"/><circle cx="549.34" cy="282.74" r="2.85"/><circle cx="526.96" cy="293.81" r="2.85"/><circle cx="529.85" cy="293.41" r="2.85"/><circle cx="549.39" cy="292.59" r="2.85"/><circle cx="551.15" cy="287.86" r="2.85"/><circle cx="547.2" cy="285.17" r="2.85"/><circle cx="535.67" cy="293.86" r="2.85"/><circle cx="546.96" cy="291.76" r="2.85"/><circle cx="549.76" cy="291.93" r="2.85"/><circle cx="548.79" cy="286.93" r="2.85"/><circle cx="547.82" cy="293.34" r="2.85"/><circle cx="549.29" cy="290.19" r="2.85"/><circle cx="544.14" cy="293.11" r="2.85"/><circle cx="540.86" cy="293.45" r="2.85"/><circle cx="541.67" cy="291.89" r="2.85"/><circle cx="549.78" cy="284.25" r="2.85"/><circle cx="547.06" cy="290.45" r="2.85"/><circle cx="543.44" cy="291.27" r="2.85"/><circle cx="546.33" cy="293.71" r="2.85"/><circle cx="537.83" cy="290.97" r="2.85"/><circle cx="545.54" cy="290.84" r="2.85"/><circle cx="548.73" cy="280.53" r="2.85"/><circle cx="541.26" cy="293.42" r="2.85"/><circle cx="536.46" cy="288.07" r="2.85"/><circle cx="547.74" cy="266.9" r="2.85"/><circle cx="545.66" cy="293.22" r="2.85"/><circle cx="540.34" cy="293.16" r="2.85"/><circle cx="539.84" cy="292.36" r="2.85"/><circle cx="550.49" cy="288.05" r="2.85"/><circle cx="534.67" cy="293.14" r="2.85"/><circle cx="544.64" cy="287.65" r="2.85"/><circle cx="546.26" cy="291.23" r="2.85"/><circle cx="543.76" cy="289.06" r="2.85"/><circle cx="549.48" cy="293.29" r="2.85"/><circle cx="538.83" cy="292.62" r="2.85"/><circle cx="548.3" cy="281.76" r="2.85"/><circle cx="532.4" cy="293.07" r="2.85"/><circle cx="535.51" cy="292.15" r="2.85"/><circle cx="548.45" cy="293.88" r="2.85"/><circle cx="541.46" cy="291.11" r="2.85"/><circle cx="547.67" cy="290.71" r="2.85"/><circle cx="544.09" cy="293.09" r="2.85"/><circle cx="540.92" cy="292.28" r="2.85"/><circle cx="547.19" cy="293.41" r="2.85"/><circle cx="544.36" cy="292.77" r="2.85"/><circle cx="540.08" cy="293.59" r="2.85"/><circle cx="545.1" cy="215.7" r="2.85"/><circle cx="545.7" cy="233.8" r="2.85"/><circle cx="548.6" cy="232.3" r="2.85"/><circle cx="537.2" cy="240.2" r="2.85"/><circle cx="546.6" cy="238.2" r="2.85"/><circle cx="543.6" cy="243.4" r="2.85"/><circle cx="535.5" cy="249.9" r="2.85"/><circle cx="548.6" cy="245.5" r="2.85"/><circle cx="546.6" cy="251.9" r="2.85"/><circle cx="549.5" cy="249.9" r="2.85"/><circle cx="548" cy="256.6" r="2.85"/><circle cx="537.2" cy="267.4" r="2.85"/><circle cx="543.6" cy="268.8" r="2.85"/><circle cx="519.4" cy="276.1" r="2.85"/><circle cx="528.2" cy="278.2" r="2.85"/><circle cx="536.4" cy="274.1" r="2.85"/><circle cx="540.7" cy="275.3" r="2.85"/><circle cx="501.9" cy="284" r="2.85"/><circle cx="513" cy="284" r="2.85"/><circle cx="524.1" cy="284.3" r="2.85"/><circle cx="529.1" cy="286.4" r="2.85"/><circle cx="535.2" cy="281.4" r="2.85"/><circle cx="446.4" cy="290.7" r="2.85"/><circle cx="471.8" cy="292.8" r="2.85"/><circle cx="504.8" cy="290.7" r="2.85"/><circle cx="511.5" cy="286.4" r="2.85"/><circle cx="508" cy="292" r="2.85"/><circle cx="514" cy="292.5" r="2.85"/><circle cx="519" cy="291" r="2.85"/><circle cx="524" cy="292" r="2.85"/><circle cx="529" cy="291.5" r="2.85"/></g>
<g fill="#e41a1c" fill-opacity="0.72"><circle cx="575.39" cy="287.64" r="2.85"/><circle cx="577.27" cy="287.54" r="2.85"/><circle cx="582.42" cy="293.62" r="2.85"/><circle cx="572.84" cy="276.03" r="2.85"/><circle cx="575.67" cy="291.85" r="2.85"/><circle cx="626.42" cy="293.04" r="2.85"/><circle cx="590.6" cy="292.06" r="2.85"/><circle cx="582.78" cy="293.18" r="2.85"/><circle cx="582.66" cy="284.48" r="2.85"/><circle cx="580.03" cy="286.34" r="2.85"/><circle cx="583.7" cy="293.65" r="2.85"/><circle cx="586.74" cy="290.72" r="2.85"/><circle cx="576.25" cy="293.7" r="2.85"/><circle cx="592.53" cy="292.24" r="2.85"/><circle cx="585.24" cy="285.61" r="2.85"/><circle cx="585.08" cy="283.82" r="2.85"/><circle cx="577.67" cy="283.12" r="2.85"/><circle cx="578.52" cy="276.7" r="2.85"/><circle cx="593.56" cy="293.68" r="2.85"/><circle cx="574.15" cy="291.77" r="2.85"/><circle cx="605.97" cy="292.95" r="2.85"/><circle cx="582.44" cy="292.24" r="2.85"/><circle cx="579.7" cy="291.13" r="2.85"/><circle cx="576.98" cy="287.72" r="2.85"/><circle cx="581.38" cy="281.97" r="2.85"/><circle cx="584.03" cy="282.66" r="2.85"/><circle cx="591.88" cy="281.08" r="2.85"/><circle cx="583.7" cy="293.16" r="2.85"/><circle cx="592.18" cy="284.94" r="2.85"/><circle cx="595.93" cy="292.01" r="2.85"/><circle cx="585.07" cy="292.99" r="2.85"/><circle cx="590.31" cy="291.42" r="2.85"/><circle cx="576.02" cy="293.44" r="2.85"/><circle cx="591.71" cy="281.32" r="2.85"/><circle cx="573.62" cy="279.04" r="2.85"/><circle cx="577.93" cy="292.86" r="2.85"/><circle cx="576.15" cy="282.89" r="2.85"/><circle cx="593.08" cy="293.82" r="2.85"/><circle cx="582.13" cy="293.72" r="2.85"/><circle cx="585.23" cy="292.35" r="2.85"/><circle cx="593.73" cy="284.04" r="2.85"/><circle cx="579.66" cy="256.37" r="2.85"/><circle cx="576.37" cy="293.34" r="2.85"/><circle cx="581.76" cy="293.78" r="2.85"/><circle cx="574.88" cy="289.56" r="2.85"/><circle cx="582.02" cy="293.11" r="2.85"/><circle cx="573.14" cy="274.48" r="2.85"/><circle cx="576.43" cy="270.43" r="2.85"/><circle cx="595.13" cy="292.82" r="2.85"/><circle cx="578.8" cy="289.42" r="2.85"/><circle cx="582.91" cy="289.78" r="2.85"/><circle cx="580.8" cy="288.79" r="2.85"/><circle cx="600.61" cy="292.55" r="2.85"/><circle cx="578.28" cy="285.79" r="2.85"/><circle cx="575.39" cy="291.07" r="2.85"/><circle cx="610.33" cy="292.76" r="2.85"/><circle cx="580.56" cy="293.88" r="2.85"/><circle cx="578.01" cy="288.27" r="2.85"/><circle cx="572.91" cy="284.56" r="2.85"/><circle cx="582.59" cy="293.65" r="2.85"/><circle cx="582.46" cy="290.97" r="2.85"/><circle cx="583.94" cy="292.07" r="2.85"/><circle cx="584.83" cy="288.52" r="2.85"/><circle cx="572.93" cy="293.33" r="2.85"/><circle cx="583.84" cy="279.67" r="2.85"/><circle cx="575.57" cy="289.12" r="2.85"/><circle cx="581.58" cy="292" r="2.85"/><circle cx="577.18" cy="291.33" r="2.85"/><circle cx="577.26" cy="287.67" r="2.85"/><circle cx="576.24" cy="290.39" r="2.85"/><circle cx="587.33" cy="293.84" r="2.85"/><circle cx="581.03" cy="286.99" r="2.85"/><circle cx="576.37" cy="292.07" r="2.85"/><circle cx="588.8" cy="293.07" r="2.85"/><circle cx="574.76" cy="289.12" r="2.85"/><circle cx="584.54" cy="293.49" r="2.85"/><circle cx="576.55" cy="290.97" r="2.85"/><circle cx="590.42" cy="292.24" r="2.85"/><circle cx="591.82" cy="293.43" r="2.85"/><circle cx="576.76" cy="286.39" r="2.85"/><circle cx="594.07" cy="292.46" r="2.85"/><circle cx="575.23" cy="292.89" r="2.85"/><circle cx="580.16" cy="292.76" r="2.85"/><circle cx="588.95" cy="288.15" r="2.85"/><circle cx="574.71" cy="291.18" r="2.85"/><circle cx="588.97" cy="290.68" r="2.85"/><circle cx="588.92" cy="292.59" r="2.85"/><circle cx="574.08" cy="290.86" r="2.85"/><circle cx="588.31" cy="292.9" r="2.85"/><circle cx="576.91" cy="290.1" r="2.85"/><circle cx="578.09" cy="290.52" r="2.85"/><circle cx="597.74" cy="293.57" r="2.85"/><circle cx="572.75" cy="265.46" r="2.85"/><circle cx="593.65" cy="283.02" r="2.85"/><circle cx="578.34" cy="274.83" r="2.85"/><circle cx="598.62" cy="293.42" r="2.85"/><circle cx="586.23" cy="287.21" r="2.85"/><circle cx="583.45" cy="290.7" r="2.85"/><circle cx="576.08" cy="290.77" r="2.85"/><circle cx="575.26" cy="293.37" r="2.85"/><circle cx="581.49" cy="292.22" r="2.85"/><circle cx="589.13" cy="293.79" r="2.85"/><circle cx="595.82" cy="291.22" r="2.85"/><circle cx="598.15" cy="289.14" r="2.85"/><circle cx="595.43" cy="291.93" r="2.85"/><circle cx="572.84" cy="280.46" r="2.85"/><circle cx="574.57" cy="290.89" r="2.85"/><circle cx="583.45" cy="290.64" r="2.85"/><circle cx="577.98" cy="275.63" r="2.85"/><circle cx="582.07" cy="291.91" r="2.85"/><circle cx="575.58" cy="278.33" r="2.85"/><circle cx="579.12" cy="284.77" r="2.85"/><circle cx="576.99" cy="292.39" r="2.85"/><circle cx="580.27" cy="284.56" r="2.85"/><circle cx="574.56" cy="280.51" r="2.85"/><circle cx="597.88" cy="290.44" r="2.85"/><circle cx="589.84" cy="293.92" r="2.85"/><circle cx="582.49" cy="284.56" r="2.85"/><circle cx="573.21" cy="290.91" r="2.85"/><circle cx="575.8" cy="288.13" r="2.85"/><circle cx="578.14" cy="289.8" r="2.85"/><circle cx="587.51" cy="293.93" r="2.85"/><circle cx="573.27" cy="292.65" r="2.85"/><circle cx="574.02" cy="293.3" r="2.85"/><circle cx="609.03" cy="290.79" r="2.85"/><circle cx="573.6" cy="287.48" r="2.85"/><circle cx="576.46" cy="291.16" r="2.85"/><circle cx="576.98" cy="286.58" r="2.85"/><circle cx="581.44" cy="291.66" r="2.85"/><circle cx="574.8" cy="290.59" r="2.85"/><circle cx="574.01" cy="286.68" r="2.85"/><circle cx="585.15" cy="292.04" r="2.85"/><circle cx="573.53" cy="292.11" r="2.85"/><circle cx="577.32" cy="287.55" r="2.85"/><circle cx="587.79" cy="292.32" r="2.85"/><circle cx="588.67" cy="290.79" r="2.85"/><circle cx="578.29" cy="290.96" r="2.85"/><circle cx="579.48" cy="286.84" r="2.85"/><circle cx="578.1" cy="286.25" r="2.85"/><circle cx="578.81" cy="292.21" r="2.85"/><circle cx="580.29" cy="287.39" r="2.85"/><circle cx="573.44" cy="288.75" r="2.85"/><circle cx="578.19" cy="280.29" r="2.85"/><circle cx="599.94" cy="293" r="2.85"/><circle cx="595.25" cy="290.25" r="2.85"/><circle cx="575.71" cy="289.07" r="2.85"/><circle cx="574.01" cy="278.91" r="2.85"/><circle cx="583.43" cy="284.26" r="2.85"/><circle cx="588.24" cy="290.3" r="2.85"/><circle cx="585.78" cy="290.77" r="2.85"/><circle cx="573.78" cy="285.86" r="2.85"/><circle cx="572.76" cy="292.4" r="2.85"/><circle cx="587.42" cy="293.78" r="2.85"/><circle cx="573.66" cy="292.97" r="2.85"/><circle cx="593.69" cy="293.44" r="2.85"/><circle cx="572.94" cy="275.93" r="2.85"/><circle cx="573.99" cy="277.27" r="2.85"/><circle cx="583.77" cy="286.09" r="2.85"/><circle cx="602.79" cy="292.34" r="2.85"/><circle cx="588.55" cy="293.82" r="2.85"/><circle cx="587.12" cy="291.42" r="2.85"/><circle cx="585.12" cy="293.49" r="2.85"/><circle cx="586.36" cy="283.9" r="2.85"/><circle cx="573.33" cy="290.23" r="2.85"/><circle cx="580.91" cy="284.65" r="2.85"/><circle cx="575.45" cy="292.36" r="2.85"/><circle cx="575.55" cy="286.37" r="2.85"/><circle cx="586.55" cy="292.12" r="2.85"/><circle cx="577.23" cy="290.44" r="2.85"/><circle cx="576.97" cy="290.11" r="2.85"/><circle cx="573.57" cy="287.5" r="2.85"/><circle cx="608.41" cy="293.06" r="2.85"/><circle cx="586.3" cy="293.29" r="2.85"/><circle cx="584.31" cy="288.03" r="2.85"/><circle cx="583.78" cy="290.78" r="2.85"/><circle cx="579.24" cy="287.8" r="2.85"/><circle cx="595.2" cy="293.56" r="2.85"/><circle cx="573.7" cy="281.28" r="2.85"/><circle cx="597.25" cy="292.35" r="2.85"/><circle cx="578.49" cy="285.94" r="2.85"/><circle cx="574.74" cy="291.31" r="2.85"/><circle cx="574.9" cy="286.6" r="2.85"/><circle cx="576.44" cy="291.99" r="2.85"/><circle cx="584.32" cy="281.1" r="2.85"/><circle cx="576.17" cy="284.74" r="2.85"/><circle cx="577.97" cy="281.35" r="2.85"/><circle cx="581.39" cy="292.35" r="2.85"/><circle cx="575.13" cy="293.75" r="2.85"/><circle cx="579.16" cy="291.05" r="2.85"/><circle cx="574.58" cy="290.12" r="2.85"/><circle cx="576.55" cy="283.06" r="2.85"/><circle cx="574.24" cy="252.33" r="2.85"/><circle cx="579.16" cy="288.46" r="2.85"/><circle cx="578.94" cy="282.98" r="2.85"/><circle cx="589.74" cy="291.46" r="2.85"/><circle cx="579.19" cy="286.31" r="2.85"/><circle cx="591.9" cy="292.54" r="2.85"/><circle cx="585.78" cy="281.63" r="2.85"/><circle cx="578.93" cy="292.35" r="2.85"/><circle cx="575.35" cy="283.78" r="2.85"/><circle cx="583.82" cy="280.16" r="2.85"/><circle cx="591.71" cy="293.18" r="2.85"/><circle cx="574.79" cy="291.42" r="2.85"/><circle cx="574.76" cy="283.66" r="2.85"/><circle cx="592.03" cy="287.7" r="2.85"/><circle cx="575.62" cy="278.18" r="2.85"/><circle cx="576.42" cy="289.87" r="2.85"/><circle cx="585.61" cy="293.59" r="2.85"/><circle cx="573.67" cy="277.41" r="2.85"/><circle cx="576.12" cy="290.6" r="2.85"/><circle cx="581.29" cy="288.16" r="2.85"/><circle cx="572.78" cy="289.9" r="2.85"/><circle cx="578.37" cy="289.71" r="2.85"/><circle cx="575.04" cy="286.69" r="2.85"/><circle cx="603.42" cy="293.04" r="2.85"/><circle cx="580.47" cy="293.25" r="2.85"/><circle cx="575.88" cy="285.5" r="2.85"/><circle cx="573.89" cy="274.21" r="2.85"/><circle cx="596.36" cy="293.71" r="2.85"/><circle cx="600.72" cy="293.02" r="2.85"/><circle cx="587.33" cy="289.02" r="2.85"/><circle cx="576.17" cy="285.45" r="2.85"/><circle cx="583.2" cy="286.55" r="2.85"/><circle cx="575.76" cy="283.02" r="2.85"/><circle cx="604.84" cy="291.97" r="2.85"/><circle cx="580.3" cy="293.28" r="2.85"/><circle cx="579.44" cy="291.39" r="2.85"/><circle cx="585.22" cy="289.45" r="2.85"/><circle cx="580.96" cy="292.88" r="2.85"/><circle cx="582.96" cy="289.38" r="2.85"/><circle cx="574.66" cy="275.19" r="2.85"/><circle cx="583.23" cy="293.35" r="2.85"/><circle cx="599.25" cy="293.63" r="2.85"/><circle cx="576.69" cy="284.72" r="2.85"/><circle cx="581.7" cy="289.9" r="2.85"/><circle cx="583.01" cy="291.15" r="2.85"/><circle cx="576.41" cy="292.5" r="2.85"/><circle cx="573.41" cy="282.11" r="2.85"/><circle cx="586.58" cy="291.09" r="2.85"/><circle cx="586" cy="292.26" r="2.85"/><circle cx="575.76" cy="290.18" r="2.85"/><circle cx="593.06" cy="293.83" r="2.85"/><circle cx="579.65" cy="292.3" r="2.85"/><circle cx="587.18" cy="292.4" r="2.85"/><circle cx="576.71" cy="290.21" r="2.85"/><circle cx="580.41" cy="285.86" r="2.85"/><circle cx="577.01" cy="280.7" r="2.85"/><circle cx="573.88" cy="291.09" r="2.85"/><circle cx="573.75" cy="292.84" r="2.85"/><circle cx="587.62" cy="289.5" r="2.85"/><circle cx="574.73" cy="292.17" r="2.85"/><circle cx="578.03" cy="285.07" r="2.85"/><circle cx="589.42" cy="289.67" r="2.85"/><circle cx="581.56" cy="293.14" r="2.85"/><circle cx="577.73" cy="292.5" r="2.85"/><circle cx="580.12" cy="289.25" r="2.85"/><circle cx="574.94" cy="291.55" r="2.85"/><circle cx="587.74" cy="293.83" r="2.85"/><circle cx="588.77" cy="286.83" r="2.85"/><circle cx="602.17" cy="293.03" r="2.85"/><circle cx="580.65" cy="289.24" r="2.85"/><circle cx="582.63" cy="276.29" r="2.85"/><circle cx="584.17" cy="292.43" r="2.85"/><circle cx="592.13" cy="292.15" r="2.85"/><circle cx="581.79" cy="287.51" r="2.85"/><circle cx="572.73" cy="279.3" r="2.85"/><circle cx="583.42" cy="290.93" r="2.85"/><circle cx="580.03" cy="290.47" r="2.85"/><circle cx="574.83" cy="287.62" r="2.85"/><circle cx="573.08" cy="287.23" r="2.85"/><circle cx="582.97" cy="291.25" r="2.85"/><circle cx="580.96" cy="277.14" r="2.85"/><circle cx="594.7" cy="293.59" r="2.85"/><circle cx="588.24" cy="290.72" r="2.85"/><circle cx="573.22" cy="289.68" r="2.85"/><circle cx="575.33" cy="293.29" r="2.85"/><circle cx="580.36" cy="279.35" r="2.85"/><circle cx="576.56" cy="279.01" r="2.85"/><circle cx="584.43" cy="293.34" r="2.85"/><circle cx="592.01" cy="291.44" r="2.85"/><circle cx="598.56" cy="291.31" r="2.85"/><circle cx="586.01" cy="292.35" r="2.85"/><circle cx="588.94" cy="285.42" r="2.85"/><circle cx="592.24" cy="292.4" r="2.85"/><circle cx="586.68" cy="291.54" r="2.85"/><circle cx="573.85" cy="293.54" r="2.85"/><circle cx="573.51" cy="291.85" r="2.85"/><circle cx="574.44" cy="287.99" r="2.85"/><circle cx="584.58" cy="290.77" r="2.85"/><circle cx="578.13" cy="287.15" r="2.85"/><circle cx="576.3" cy="289.28" r="2.85"/><circle cx="586.69" cy="292.08" r="2.85"/><circle cx="574.68" cy="274.46" r="2.85"/><circle cx="585.27" cy="292.14" r="2.85"/><circle cx="577.29" cy="288.74" r="2.85"/><circle cx="581.67" cy="292.67" r="2.85"/><circle cx="572.73" cy="291.61" r="2.85"/><circle cx="587.81" cy="293.41" r="2.85"/><circle cx="578.8" cy="292.6" r="2.85"/><circle cx="575.03" cy="292.39" r="2.85"/><circle cx="577.82" cy="292.72" r="2.85"/><circle cx="572.98" cy="292.8" r="2.85"/><circle cx="574.53" cy="288.15" r="2.85"/><circle cx="573.32" cy="293.72" r="2.85"/><circle cx="578.58" cy="290.66" r="2.85"/><circle cx="584.72" cy="293.72" r="2.85"/><circle cx="577.81" cy="290.59" r="2.85"/><circle cx="572.98" cy="261.12" r="2.85"/><circle cx="575.15" cy="293.13" r="2.85"/><circle cx="579.07" cy="292.85" r="2.85"/><circle cx="582.33" cy="291.91" r="2.85"/><circle cx="574.02" cy="293.46" r="2.85"/><circle cx="585.56" cy="292.69" r="2.85"/><circle cx="588.03" cy="291.85" r="2.85"/><circle cx="599.4" cy="293.21" r="2.85"/><circle cx="575.55" cy="291.49" r="2.85"/><circle cx="589.36" cy="290.86" r="2.85"/><circle cx="576.88" cy="293.24" r="2.85"/><circle cx="584.04" cy="279.1" r="2.85"/><circle cx="581.57" cy="293.92" r="2.85"/><circle cx="573.01" cy="293.02" r="2.85"/><circle cx="574.55" cy="293.62" r="2.85"/><circle cx="573.26" cy="283.82" r="2.85"/><circle cx="595.49" cy="293.42" r="2.85"/><circle cx="608.71" cy="292.88" r="2.85"/><circle cx="588.79" cy="285.96" r="2.85"/><circle cx="600.52" cy="293.87" r="2.85"/><circle cx="576.3" cy="286.98" r="2.85"/><circle cx="601.64" cy="293.76" r="2.85"/><circle cx="576.14" cy="279.62" r="2.85"/><circle cx="573.91" cy="289.48" r="2.85"/><circle cx="576.73" cy="285.72" r="2.85"/><circle cx="598.77" cy="293.54" r="2.85"/><circle cx="586.01" cy="288.96" r="2.85"/><circle cx="590.55" cy="291.59" r="2.85"/><circle cx="598.1" cy="292.98" r="2.85"/><circle cx="578" cy="292.23" r="2.85"/><circle cx="587.64" cy="291.7" r="2.85"/><circle cx="575.81" cy="292.5" r="2.85"/><circle cx="585.31" cy="290.28" r="2.85"/><circle cx="584.96" cy="291.97" r="2.85"/><circle cx="579.3" cy="292.95" r="2.85"/><circle cx="584.96" cy="293.84" r="2.85"/><circle cx="578.92" cy="285.27" r="2.85"/><circle cx="583.88" cy="293.5" r="2.85"/><circle cx="575.38" cy="279.06" r="2.85"/><circle cx="582.87" cy="284.23" r="2.85"/><circle cx="593.04" cy="292.39" r="2.85"/><circle cx="595.16" cy="290.82" r="2.85"/><circle cx="576.72" cy="290.6" r="2.85"/><circle cx="573.45" cy="289.16" r="2.85"/><circle cx="603.5" cy="293.74" r="2.85"/><circle cx="581.02" cy="293.33" r="2.85"/><circle cx="573.54" cy="284.19" r="2.85"/><circle cx="575.43" cy="293.54" r="2.85"/><circle cx="574.34" cy="284.93" r="2.85"/><circle cx="581.41" cy="293.88" r="2.85"/><circle cx="575.29" cy="266.33" r="2.85"/><circle cx="575.16" cy="287.2" r="2.85"/><circle cx="578.08" cy="284.07" r="2.85"/><circle cx="581.87" cy="286.27" r="2.85"/><circle cx="580.28" cy="292.79" r="2.85"/><circle cx="574.64" cy="293.24" r="2.85"/><circle cx="589.96" cy="293.58" r="2.85"/><circle cx="572.95" cy="260.79" r="2.85"/><circle cx="574.9" cy="275.3" r="2.85"/><circle cx="573.59" cy="288.14" r="2.85"/><circle cx="575.2" cy="279.55" r="2.85"/><circle cx="582.15" cy="288.97" r="2.85"/><circle cx="586.87" cy="286.6" r="2.85"/><circle cx="583.3" cy="75.8" r="2.85"/><circle cx="586.9" cy="197.3" r="2.85"/><circle cx="585.1" cy="206.9" r="2.85"/><circle cx="588.3" cy="206.9" r="2.85"/><circle cx="606.7" cy="229.4" r="2.85"/><circle cx="574.9" cy="231.8" r="2.85"/><circle cx="581" cy="231.8" r="2.85"/><circle cx="577.2" cy="235.3" r="2.85"/><circle cx="588.3" cy="236.7" r="2.85"/><circle cx="575.8" cy="241.1" r="2.85"/><circle cx="579.6" cy="242.6" r="2.85"/><circle cx="575.2" cy="248.4" r="2.85"/><circle cx="583.6" cy="247.8" r="2.85"/><circle cx="577.2" cy="251.3" r="2.85"/><circle cx="582.2" cy="253.6" r="2.85"/><circle cx="575.8" cy="257.2" r="2.85"/><circle cx="592.4" cy="258.9" r="2.85"/><circle cx="580.1" cy="261.5" r="2.85"/><circle cx="590.1" cy="266.5" r="2.85"/><circle cx="572.8" cy="273.2" r="2.85"/><circle cx="612" cy="277.6" r="2.85"/><circle cx="596.8" cy="275.5" r="2.85"/><circle cx="633" cy="287.2" r="2.85"/><circle cx="636.2" cy="288.7" r="2.85"/><circle cx="620.1" cy="290.1" r="2.85"/><circle cx="628.3" cy="292.2" r="2.85"/><circle cx="600" cy="289" r="2.85"/><circle cx="606" cy="291" r="2.85"/><circle cx="612" cy="292" r="2.85"/><circle cx="616" cy="291.5" r="2.85"/></g>
<path d="M551.7 303.7V69M572.5 303.7V69" stroke="#8e8e8e" stroke-width="1.7" stroke-dasharray="11.6 5.135" stroke-dashoffset="0.6" fill="none"/>
<path d="M440 293.6H685" stroke="#8e8e8e" stroke-width="1.7" stroke-dasharray="11.4 5.34" stroke-dashoffset="0" fill="none"/>
<path d="M439.8 69V304.4M439.2 303.7H685" stroke="#000" stroke-width="1.5" fill="none"/>
<path d="M433.6 297.5H439.8" stroke="#000" stroke-width="1.3"/>
<text x="429.4" y="302.2" text-anchor="end" font-family="'Liberation Serif','Times New Roman',serif" font-size="14.3" fill="#111" stroke="#111" stroke-width="0.2">0</text>
<path d="M433.6 242.7H439.8" stroke="#000" stroke-width="1.3"/>
<text x="429.4" y="247.4" text-anchor="end" font-family="'Liberation Serif','Times New Roman',serif" font-size="14.3" fill="#111" stroke="#111" stroke-width="0.2">20</text>
<path d="M433.6 187.9H439.8" stroke="#000" stroke-width="1.3"/>
<text x="429.4" y="192.6" text-anchor="end" font-family="'Liberation Serif','Times New Roman',serif" font-size="14.3" fill="#111" stroke="#111" stroke-width="0.2">40</text>
<path d="M433.6 133.1H439.8" stroke="#000" stroke-width="1.3"/>
<text x="429.4" y="137.8" text-anchor="end" font-family="'Liberation Serif','Times New Roman',serif" font-size="14.3" fill="#111" stroke="#111" stroke-width="0.2">60</text>
<path d="M433.6 78.3H439.8" stroke="#000" stroke-width="1.3"/>
<text x="429.4" y="83" text-anchor="end" font-family="'Liberation Serif','Times New Roman',serif" font-size="14.3" fill="#111" stroke="#111" stroke-width="0.2">80</text>
<path d="M458.1 303.7V309.9" stroke="#000" stroke-width="1.4"/>
<text x="458.1" y="325.6" text-anchor="middle" font-family="'Liberation Serif','Times New Roman',serif" font-size="14" fill="#111" stroke="#111" stroke-width="0.2">−10</text>
<path d="M510.1 303.7V309.9" stroke="#000" stroke-width="1.4"/>
<text x="510.1" y="325.6" text-anchor="middle" font-family="'Liberation Serif','Times New Roman',serif" font-size="14" fill="#111" stroke="#111" stroke-width="0.2">−5</text>
<path d="M562.1 303.7V309.9" stroke="#000" stroke-width="1.4"/>
<text x="562.1" y="325.6" text-anchor="middle" font-family="'Liberation Serif','Times New Roman',serif" font-size="14" fill="#111" stroke="#111" stroke-width="0.2">0</text>
<path d="M614.1 303.7V309.9" stroke="#000" stroke-width="1.4"/>
<text x="614.1" y="325.6" text-anchor="middle" font-family="'Liberation Serif','Times New Roman',serif" font-size="14" fill="#111" stroke="#111" stroke-width="0.2">5</text>
<path d="M666.1 303.7V309.9" stroke="#000" stroke-width="1.4"/>
<text x="666.1" y="325.6" text-anchor="middle" font-family="'Liberation Serif','Times New Roman',serif" font-size="14" fill="#111" stroke="#111" stroke-width="0.2">10</text>
<text x="559.3" y="343.6" text-anchor="middle" font-family="'Liberation Serif','Times New Roman',serif" font-size="16" fill="#111" stroke="#111" stroke-width="0.2">Log<tspan dy="4.7" dx="0.8" font-size="11.8">2</tspan><tspan dy="-4.7" dx="0.6"> (Fold Change)</tspan></text>
<text transform="translate(402.2 188.2) rotate(-90)" text-anchor="middle" font-family="'Liberation Serif','Times New Roman',serif" font-size="16.3" fill="#111" stroke="#111" stroke-width="0.2">−Log<tspan dy="4.7" dx="0.8" font-size="11.8">10</tspan><tspan dy="-4.7" dx="0.6"> (</tspan><tspan font-style="italic">P</tspan> value)</text>
<circle cx="522.5" cy="56.3" r="3.1" fill="#e41a1c" stroke="#000" stroke-width="1.3"/>
<circle cx="567.8" cy="56.3" r="3.1" fill="#375aaa" stroke="#000" stroke-width="1.3"/>
<text x="537" y="60.8" font-family="'Liberation Serif','Times New Roman',serif" font-size="13.4" fill="#111">Up</text>
<text x="581.6" y="60.8" font-family="'Liberation Serif','Times New Roman',serif" font-size="13.4" fill="#111">Down</text>
<path d="M548.3 279.2L554.6 272.2" stroke="#000" stroke-width="1.4"/>
<circle cx="546.9" cy="280.8" r="1.9" fill="none" stroke="#000" stroke-width="1.1"/>
<text x="547.6" y="268.9" font-family="'Liberation Serif','Times New Roman',serif" font-size="10.7" fill="#111">P2RX4</text>
<g fill="#eb746b"><rect x="150.6" y="541.46" width="4.55" height="24.44"/><rect x="155.78" y="541.46" width="4.55" height="24.44"/><rect x="160.96" y="540.68" width="4.55" height="25.22"/><rect x="166.14" y="539.89" width="4.55" height="26.01"/><rect x="171.32" y="539.89" width="4.55" height="26.01"/><rect x="176.5" y="539.1" width="4.55" height="26.8"/><rect x="181.68" y="538.05" width="4.55" height="27.85"/><rect x="186.86" y="538.05" width="4.55" height="27.85"/><rect x="192.04" y="536.21" width="4.55" height="29.69"/><rect x="197.22" y="536.21" width="4.55" height="29.69"/><rect x="202.4" y="536.21" width="4.55" height="29.69"/><rect x="207.58" y="536.21" width="4.55" height="29.69"/><rect x="212.76" y="533.58" width="4.55" height="32.32"/><rect x="217.94" y="530.96" width="4.55" height="34.94"/><rect x="223.12" y="525.7" width="4.55" height="40.2"/><rect x="228.3" y="524.65" width="4.55" height="41.25"/><rect x="233.48" y="522.02" width="4.55" height="43.88"/><rect x="238.66" y="512.3" width="4.55" height="53.6"/><rect x="243.84" y="512.3" width="4.55" height="53.6"/><rect x="249.02" y="512.3" width="4.55" height="53.6"/><rect x="254.2" y="509.15" width="4.55" height="56.75"/><rect x="259.38" y="507.31" width="4.55" height="58.59"/><rect x="264.56" y="505.47" width="4.55" height="60.43"/><rect x="269.74" y="505.47" width="4.55" height="60.43"/><rect x="274.92" y="502.84" width="4.55" height="63.06"/><rect x="280.1" y="502.84" width="4.55" height="63.06"/><rect x="285.28" y="500.21" width="4.55" height="65.69"/><rect x="290.46" y="490.49" width="4.55" height="75.41"/><rect x="295.64" y="484.19" width="12.6" height="81.71"/></g>
<g fill="#2bab43"><rect x="301.7" y="561.96" width="4.55" height="3.94"/><rect x="306.88" y="561.17" width="4.55" height="4.73"/><rect x="312.06" y="561.17" width="4.55" height="4.73"/><rect x="317.24" y="559.33" width="4.55" height="6.57"/><rect x="322.42" y="558.54" width="4.55" height="7.36"/><rect x="327.6" y="557.49" width="4.55" height="8.41"/><rect x="332.78" y="557.49" width="4.55" height="8.41"/><rect x="337.96" y="557.49" width="4.55" height="8.41"/><rect x="343.14" y="554.08" width="4.55" height="11.82"/><rect x="348.32" y="552.24" width="4.55" height="13.66"/><rect x="353.5" y="551.45" width="4.55" height="14.45"/><rect x="358.68" y="550.4" width="4.55" height="15.5"/><rect x="363.86" y="550.4" width="4.55" height="15.5"/><rect x="369.04" y="550.4" width="4.55" height="15.5"/><rect x="374.22" y="550.4" width="4.55" height="15.5"/><rect x="379.4" y="550.4" width="4.55" height="15.5"/><rect x="384.58" y="548.82" width="4.55" height="17.08"/><rect x="389.76" y="547.77" width="4.55" height="18.13"/><rect x="394.94" y="546.19" width="4.55" height="19.71"/><rect x="400.12" y="545.14" width="4.55" height="20.76"/><rect x="405.3" y="545.14" width="4.55" height="20.76"/><rect x="410.48" y="543.57" width="4.55" height="22.33"/><rect x="415.66" y="543.57" width="4.55" height="22.33"/><rect x="420.84" y="543.57" width="4.55" height="22.33"/><rect x="426.02" y="543.57" width="4.55" height="22.33"/><rect x="431.2" y="540.15" width="4.55" height="25.75"/><rect x="436.38" y="529.38" width="4.55" height="36.52"/><rect x="441.56" y="515.19" width="4.55" height="50.71"/><rect x="446.74" y="493.38" width="4.55" height="72.52"/><rect x="451.92" y="485.24" width="12.8" height="80.66"/></g>
<g fill="#6a92cd"><rect x="458.5" y="533.58" width="4.55" height="32.32"/><rect x="463.68" y="532.79" width="4.55" height="33.11"/><rect x="468.86" y="532.79" width="4.55" height="33.11"/><rect x="474.04" y="530.96" width="4.55" height="34.94"/><rect x="479.22" y="530.96" width="4.55" height="34.94"/><rect x="484.4" y="524.91" width="4.55" height="40.99"/><rect x="489.58" y="524.91" width="4.55" height="40.99"/><rect x="494.76" y="522.28" width="4.55" height="43.62"/><rect x="499.94" y="522.28" width="4.55" height="43.62"/><rect x="505.12" y="522.28" width="4.55" height="43.62"/><rect x="510.3" y="521.23" width="4.55" height="44.67"/><rect x="515.48" y="521.23" width="4.55" height="44.67"/><rect x="520.66" y="519.66" width="4.55" height="46.24"/><rect x="525.84" y="519.66" width="4.55" height="46.24"/><rect x="531.02" y="517.29" width="4.55" height="48.61"/><rect x="536.2" y="516.24" width="4.55" height="49.66"/><rect x="541.38" y="516.24" width="4.55" height="49.66"/><rect x="546.56" y="515.19" width="4.55" height="50.71"/><rect x="551.74" y="515.19" width="4.55" height="50.71"/><rect x="556.92" y="511.51" width="4.55" height="54.39"/><rect x="562.1" y="501" width="4.55" height="64.9"/><rect x="567.28" y="501" width="4.55" height="64.9"/><rect x="572.46" y="501" width="4.55" height="64.9"/><rect x="577.64" y="496.01" width="4.55" height="69.89"/><rect x="582.82" y="491.28" width="4.55" height="74.62"/><rect x="588" y="491.28" width="4.55" height="74.62"/><rect x="593.18" y="488.92" width="4.55" height="76.98"/><rect x="598.36" y="461.33" width="4.55" height="104.57"/><rect x="603.54" y="442.15" width="4.55" height="123.75"/><rect x="608.72" y="442.15" width="8.3" height="123.75"/></g>
<path d="M150.3 412V566" stroke="#c3cfea" stroke-width="0.7"/>
<text x="134.2" y="568.8" text-anchor="middle" font-family="'Liberation Sans',Arial,sans-serif" font-size="9.4" fill="#555">0</text>
<text x="134.2" y="530.45" text-anchor="middle" font-family="'Liberation Sans',Arial,sans-serif" font-size="9.4" fill="#555">1</text>
<text x="134.2" y="492.1" text-anchor="middle" font-family="'Liberation Sans',Arial,sans-serif" font-size="9.4" fill="#555">2</text>
<text x="134.2" y="453.75" text-anchor="middle" font-family="'Liberation Sans',Arial,sans-serif" font-size="9.4" fill="#555">3</text>
<text x="134.2" y="415.4" text-anchor="middle" font-family="'Liberation Sans',Arial,sans-serif" font-size="9.4" fill="#555">4</text>
<text transform="translate(121 488.6) rotate(-90)" text-anchor="middle" font-family="'Liberation Sans',Arial,sans-serif" font-size="10.65" fill="#111">-log10(<tspan font-weight="700" font-style="italic">P</tspan>value)</text>
<g font-family="'Liberation Sans',Arial,sans-serif" font-size="9.65" font-style="italic" fill="#222" text-anchor="end"><text transform="translate(157.2 576.5) rotate(-75)">divalent metal ion tran…</text><text transform="translate(172.75 576.5) rotate(-75)">nucleotide catabolic p…</text><text transform="translate(188.3 576.5) rotate(-75)">mRNA metabolic proc…</text><text transform="translate(203.85 576.5) rotate(-75)">animal organ develop…</text><text transform="translate(219.4 576.5) rotate(-75)">porphyrin-containing …</text><text transform="translate(234.95 576.5) rotate(-75)">nucleobase-containin…</text><text transform="translate(250.5 576.5) rotate(-75)">system development</text><text transform="translate(266.05 576.5) rotate(-75)">regulation of multicell…</text><text transform="translate(281.6 576.5) rotate(-75)">aromatic compound c…</text><text transform="translate(297.15 576.5) rotate(-75)">regulation of multicell…</text><text transform="translate(312.7 576.5) rotate(-75)">chromosome</text><text transform="translate(328.25 576.5) rotate(-75)">plasma membrane</text><text transform="translate(343.8 576.5) rotate(-75)">cytoskeletal part</text><text transform="translate(359.35 576.5) rotate(-75)">peptidase complex</text><text transform="translate(374.9 576.5) rotate(-75)">transporter complex</text><text transform="translate(390.45 576.5) rotate(-75)">proteasome complex</text><text transform="translate(406 576.5) rotate(-75)">chromosomal region</text><text transform="translate(421.55 576.5) rotate(-75)">supramolecular fiber</text><text transform="translate(437.1 576.5) rotate(-75)">chromosome, centrom…</text><text transform="translate(452.65 576.5) rotate(-75)">extracellular matrix</text><text transform="translate(468.2 576.5) rotate(-75)">nucleoside-triphosph…</text><text transform="translate(483.75 576.5) rotate(-75)">ion gated channel acti…</text><text transform="translate(499.3 576.5) rotate(-75)">sodium ion transmem…</text><text transform="translate(514.85 576.5) rotate(-75)">sequence-specific DN…</text><text transform="translate(530.4 576.5) rotate(-75)">3',5'-cyclic-nucleotide…</text><text transform="translate(545.95 576.5) rotate(-75)">endopeptidase regulat…</text><text transform="translate(561.5 576.5) rotate(-75)">ion channel activity</text><text transform="translate(577.05 576.5) rotate(-75)">phosphatidylinositol p…</text><text transform="translate(592.6 576.5) rotate(-75)">lipase activity</text><text transform="translate(608.15 576.5) rotate(-75)">phosphoric ester hydr…</text></g>
<circle cx="648.4" cy="450.4" r="5.3" fill="#eb746b"/>
<text x="654.4" y="453.8" font-family="'Liberation Sans',Arial,sans-serif" font-weight="700" font-size="10.3" fill="#333">BP</text>
<circle cx="648.4" cy="475.5" r="5.3" fill="#2bab43"/>
<text x="654.4" y="480.4" font-family="'Liberation Sans',Arial,sans-serif" font-weight="700" font-size="10.3" fill="#333">CC</text>
<circle cx="648.4" cy="498.4" r="5.3" fill="#6a92cd"/>
<text x="654.4" y="503.4" font-family="'Liberation Sans',Arial,sans-serif" font-weight="700" font-size="10.3" fill="#333">MF</text>
<path d="M319.7 1020.92H547.8M319.7 1005.74H547.8M319.7 990.56H547.8M319.7 975.38H547.8M319.7 960.2H547.8M319.7 945.02H547.8M319.7 929.84H547.8M319.7 914.66H547.8M319.7 899.48H547.8M319.7 884.3H547.8M319.7 869.12H547.8M319.7 853.94H547.8M319.7 838.76H547.8M319.7 823.58H547.8M319.7 808.4H547.8M319.7 793.22H547.8M319.7 778.04H547.8M319.7 762.86H547.8M319.7 747.68H547.8M319.7 732.5H547.8M376.73 725.0V1036.1M433.76 725.0V1036.1M490.79 725.0V1036.1" stroke="#e4e4e4" stroke-width="1" fill="none"/>
<circle cx="460.3" cy="740.09" r="7.3" fill="rgb(232,50,65)" fill-opacity="0.55" stroke="rgb(232,50,65)" stroke-width="1.15"/>
<circle cx="413.6" cy="755.27" r="5.6" fill="rgb(228,65,50)" fill-opacity="0.55" stroke="rgb(228,65,50)" stroke-width="1.15"/>
<circle cx="475.5" cy="770.45" r="7.8" fill="rgb(222,90,50)" fill-opacity="0.55" stroke="rgb(222,90,50)" stroke-width="1.15"/>
<circle cx="366.6" cy="785.63" r="3.3" fill="rgb(205,120,60)" fill-opacity="0.55" stroke="rgb(205,120,60)" stroke-width="1.15"/>
<circle cx="398.2" cy="800.81" r="5.2" fill="rgb(200,130,60)" fill-opacity="0.55" stroke="rgb(200,130,60)" stroke-width="1.15"/>
<circle cx="413.6" cy="815.99" r="5.6" fill="rgb(180,150,60)" fill-opacity="0.55" stroke="rgb(180,150,60)" stroke-width="1.15"/>
<circle cx="460.3" cy="831.17" r="7.3" fill="rgb(150,200,80)" fill-opacity="0.55" stroke="rgb(150,200,80)" stroke-width="1.15"/>
<circle cx="382.3" cy="846.35" r="4.1" fill="rgb(150,200,80)" fill-opacity="0.55" stroke="rgb(150,200,80)" stroke-width="1.15"/>
<circle cx="444.6" cy="861.53" r="7.1" fill="rgb(150,200,90)" fill-opacity="0.55" stroke="rgb(150,200,90)" stroke-width="1.15"/>
<circle cx="398.2" cy="876.71" r="5.2" fill="rgb(140,200,140)" fill-opacity="0.55" stroke="rgb(140,200,140)" stroke-width="1.15"/>
<circle cx="444.7" cy="891.89" r="7" fill="rgb(120,195,130)" fill-opacity="0.55" stroke="rgb(120,195,130)" stroke-width="1.15"/>
<circle cx="382.4" cy="907.07" r="4.1" fill="rgb(110,195,185)" fill-opacity="0.55" stroke="rgb(110,195,185)" stroke-width="1.15"/>
<circle cx="398.1" cy="922.25" r="5.1" fill="rgb(105,195,205)" fill-opacity="0.55" stroke="rgb(105,195,205)" stroke-width="1.15"/>
<circle cx="522.1" cy="937.43" r="8.6" fill="rgb(95,195,215)" fill-opacity="0.55" stroke="rgb(95,195,215)" stroke-width="1.15"/>
<circle cx="382.4" cy="952.61" r="4.1" fill="rgb(90,190,225)" fill-opacity="0.55" stroke="rgb(90,190,225)" stroke-width="1.15"/>
<circle cx="444.7" cy="967.79" r="7" fill="rgb(85,185,228)" fill-opacity="0.55" stroke="rgb(85,185,228)" stroke-width="1.15"/>
<circle cx="366.7" cy="982.97" r="3.4" fill="rgb(85,185,228)" fill-opacity="0.55" stroke="rgb(85,185,228)" stroke-width="1.15"/>
<circle cx="398.1" cy="998.15" r="5.1" fill="rgb(80,175,228)" fill-opacity="0.55" stroke="rgb(80,175,228)" stroke-width="1.15"/>
<circle cx="350.9" cy="1013.33" r="0.7" fill="rgb(90,130,200)" fill-opacity="0.55" stroke="rgb(90,130,200)" stroke-width="1.15"/>
<circle cx="398.1" cy="1028.51" r="5.1" fill="rgb(90,110,185)" fill-opacity="0.55" stroke="rgb(90,110,185)" stroke-width="1.15"/>
<path d="M316.2 1036.1H319.7M316.2 1020.92H319.7M316.2 1005.74H319.7M316.2 990.56H319.7M316.2 975.38H319.7M316.2 960.2H319.7M316.2 945.02H319.7M316.2 929.84H319.7M316.2 914.66H319.7M316.2 899.48H319.7M316.2 884.3H319.7M316.2 869.12H319.7M316.2 853.94H319.7M316.2 838.76H319.7M316.2 823.58H319.7M316.2 808.4H319.7M316.2 793.22H319.7M316.2 778.04H319.7M316.2 762.86H319.7M316.2 747.68H319.7M316.2 732.5H319.7M319.7 1036.1V1039.5M376.73 1036.1V1039.5M433.76 1036.1V1039.5M490.79 1036.1V1039.5M547.82 1036.1V1039.5" stroke="#222" stroke-width="0.9" fill="none"/>
<rect x="319.7" y="725.0" width="228.1" height="311.1" fill="none" stroke="#333" stroke-width="1"/>
<g font-family="'Liberation Sans',Arial,sans-serif" font-size="9.7" fill="#111" text-anchor="end"><text x="306.4" y="743.39">ECM-receptor interaction</text><text x="306.4" y="758.57">Cytosolic DNA-sensing pathway</text><text x="306.4" y="773.75">NOD-like receptor signaling path…</text><text x="306.4" y="788.93">Thiamine metabolism</text><text x="306.4" y="804.11">Hedgehog signaling pathway</text><text x="306.4" y="819.29">EGFR tyrosine kinase inhibitor resi…</text><text x="306.4" y="834.47">Axon guidance</text><text x="306.4" y="849.65">Viral protein interaction with cyto…</text><text x="306.4" y="864.83">Hepatitis C</text><text x="306.4" y="880.01">ErbB signaling pathway</text><text x="306.4" y="895.19">Influenza <tspan fill="#777">A</tspan></text><text x="306.4" y="910.37">ABC transporters</text><text x="306.4" y="925.55">Toll-like receptor signaling pathw…</text><text x="306.4" y="940.73">PI3K-Akt signaling pathway</text><text x="306.4" y="955.91">RIG-I-like receptor signaling path…</text><text x="306.4" y="971.09">MicroRNAs in cancer</text><text x="306.4" y="986.27">Mucin type O-glycan biosynthesis</text><text x="306.4" y="1001.45">AGE-RAGE signaling pathway in d…</text><text x="306.4" y="1016.63">Histidine metabolism</text><text x="306.4" y="1031.81">Parathyroid hormone synthesis, s…</text></g>
<g font-family="'Liberation Sans',Arial,sans-serif" font-size="9.9" fill="#666" text-anchor="middle"><text x="319.7" y="1052">0</text><text x="376.73" y="1052">0.02</text><text x="433.76" y="1052">0.04</text><text x="490.79" y="1052">0.06</text><text x="547.82" y="1052">0.08</text></g>
<text transform="translate(139.4 880) rotate(-90)" text-anchor="middle" font-family="'Liberation Sans',Arial,sans-serif" font-size="10" fill="#222">GeneRatio</text>
<text x="564.6" y="759.3" font-family="'Liberation Sans',Arial,sans-serif" font-weight="700" font-size="10.4" fill="#111">Count</text>
<circle cx="573.5" cy="776.9" r="0.8" fill="#000"/><circle cx="573.5" cy="786.3" r="4.9" fill="#000"/><circle cx="573.3" cy="804.4" r="8.9" fill="#000"/>
<g font-family="'Liberation Sans',Arial,sans-serif" font-size="9" fill="#222"><text x="586.4" y="779.2">2</text><text x="586.4" y="789.4">8</text><text x="586.4" y="807.7">13</text></g>
<text x="564.6" y="847.8" font-family="'Liberation Sans',Arial,sans-serif" font-weight="700" font-size="10.4" fill="#111"><tspan font-style="italic">P</tspan>value</text>
<rect x="564.8" y="861.8" width="10.4" height="175.4" fill="url(#pleg)"/>
<path d="M564.8 921H575.2M564.8 979.1H575.2" stroke="#fff" stroke-opacity="0.75" stroke-width="0.8"/>
<g font-family="'Liberation Sans',Arial,sans-serif" font-size="9.2" fill="#666"><text x="588.6" y="863.4">0.06</text><text x="588.6" y="922.6">0.04</text><text x="588.6" y="981.7">0.02</text><text x="588.6" y="1039.4">0.00</text></g></svg></body></html>
